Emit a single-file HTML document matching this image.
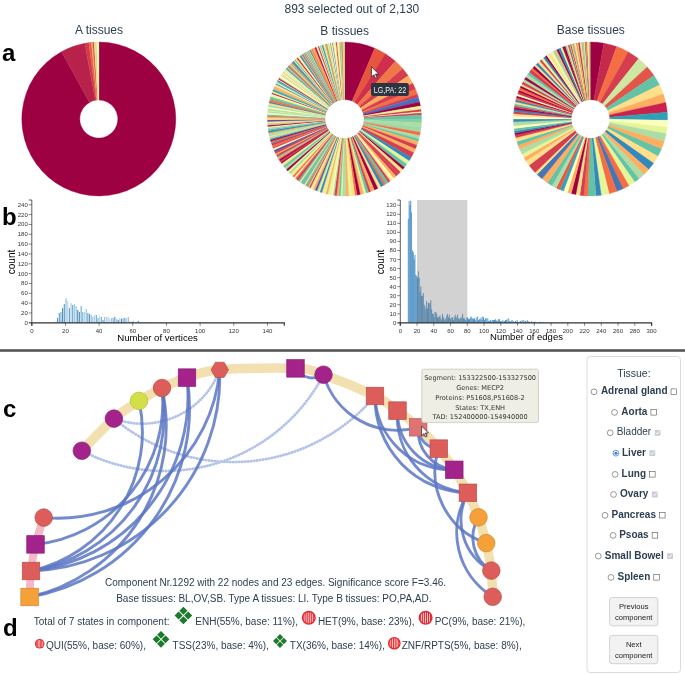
<!DOCTYPE html><html><head><meta charset="utf-8"><style>html,body{margin:0;padding:0;background:#fff;}svg{display:block;}</style></head><body>
<svg width="685" height="674" viewBox="0 0 685 674" font-family='"Liberation Sans", Arial, sans-serif'>
<rect width="685" height="674" fill="#fff"/>
<text x="351.9" y="12.7" font-size="12" fill="#2c3e50" text-anchor="middle">893 selected out of 2,130</text>
<text x="99" y="34.4" font-size="12" fill="#2c3e50" text-anchor="middle">A tissues</text>
<text x="344.7" y="34.6" font-size="12" fill="#2c3e50" text-anchor="middle">B tissues</text>
<text x="590.8" y="34.2" font-size="12" fill="#2c3e50" text-anchor="middle">Base tissues</text>
<text x="2" y="61" font-size="24" font-weight="bold" fill="#000">a</text>
<path d="M98.80,42.00A77,77 0 1 1 61.47,51.65L89.59,102.38A19,19 0 1 0 98.80,100.00Z" fill="#9e0142" stroke="#9e0142" stroke-width="0.35"/>
<path d="M61.47,51.65A77,77 0 0 1 84.77,43.29L95.34,100.32A19,19 0 0 0 89.59,102.38Z" fill="#b8224a" stroke="#b8224a" stroke-width="0.35"/>
<path d="M84.77,43.29A77,77 0 0 1 88.75,42.66L96.32,100.16A19,19 0 0 0 95.34,100.32Z" fill="#cf3a4d" stroke="#cf3a4d" stroke-width="0.35"/>
<path d="M88.75,42.66A77,77 0 0 1 91.42,42.35L96.98,100.09A19,19 0 0 0 96.32,100.16Z" fill="#e8603f" stroke="#e8603f" stroke-width="0.35"/>
<path d="M91.42,42.35A77,77 0 0 1 92.76,42.24L97.31,100.06A19,19 0 0 0 96.98,100.09Z" fill="#fdae61" stroke="#fdae61" stroke-width="0.35"/>
<path d="M92.76,42.24A77,77 0 0 1 94.10,42.14L97.64,100.04A19,19 0 0 0 97.31,100.06Z" fill="#d53e4f" stroke="#d53e4f" stroke-width="0.35"/>
<path d="M94.10,42.14A77,77 0 0 1 95.44,42.07L97.97,100.02A19,19 0 0 0 97.64,100.04Z" fill="#fee08b" stroke="#fee08b" stroke-width="0.35"/>
<path d="M95.44,42.07A77,77 0 0 1 96.52,42.03L98.24,100.01A19,19 0 0 0 97.97,100.02Z" fill="#abdda4" stroke="#abdda4" stroke-width="0.35"/>
<path d="M96.52,42.03A77,77 0 0 1 97.72,42.01L98.53,100.00A19,19 0 0 0 98.24,100.01Z" fill="#e6f598" stroke="#e6f598" stroke-width="0.35"/>
<path d="M97.72,42.01A77,77 0 0 1 98.80,42.00L98.80,100.00A19,19 0 0 0 98.53,100.00Z" fill="#ffffbf" stroke="#ffffbf" stroke-width="0.35"/>
<path d="M344.50,42.00A77,77 0 0 1 374.83,48.23L352.18,101.08A19.5,19.5 0 0 0 344.50,99.50Z" fill="#9e0142" stroke="#9e0142" stroke-width="0.35"/>
<path d="M374.83,48.23A77,77 0 0 1 385.30,53.70L354.83,102.46A19.5,19.5 0 0 0 352.18,101.08Z" fill="#e8553f" stroke="#e8553f" stroke-width="0.35"/>
<path d="M385.30,53.70A77,77 0 0 1 395.42,61.24L357.40,104.37A19.5,19.5 0 0 0 354.83,102.46Z" fill="#cf2f4c" stroke="#cf2f4c" stroke-width="0.35"/>
<path d="M395.42,61.24A77,77 0 0 1 402.79,68.69L359.26,106.26A19.5,19.5 0 0 0 357.40,104.37Z" fill="#f07848" stroke="#f07848" stroke-width="0.35"/>
<path d="M402.79,68.69A77,77 0 0 1 408.26,75.83L360.65,108.07A19.5,19.5 0 0 0 359.26,106.26Z" fill="#d53e4f" stroke="#d53e4f" stroke-width="0.35"/>
<path d="M408.26,75.83A77,77 0 0 1 412.74,83.33L361.78,109.97A19.5,19.5 0 0 0 360.65,108.07Z" fill="#fdae61" stroke="#fdae61" stroke-width="0.35"/>
<path d="M412.74,83.33A77,77 0 0 1 415.54,89.29L362.49,111.47A19.5,19.5 0 0 0 361.78,109.97Z" fill="#d53e4f" stroke="#d53e4f" stroke-width="0.35"/>
<path d="M415.54,89.29A77,77 0 0 1 417.39,94.19L362.96,112.72A19.5,19.5 0 0 0 362.49,111.47Z" fill="#f46d43" stroke="#f46d43" stroke-width="0.35"/>
<path d="M417.39,94.19A77,77 0 0 1 418.33,97.13L363.20,113.46A19.5,19.5 0 0 0 362.96,112.72Z" fill="#d53e4f" stroke="#d53e4f" stroke-width="0.35"/>
<path d="M418.33,97.13A77,77 0 0 1 419.59,101.94L363.52,114.68A19.5,19.5 0 0 0 363.20,113.46Z" fill="#4a6fc0" stroke="#4a6fc0" stroke-width="0.35"/>
<path d="M419.59,101.94A77,77 0 0 1 420.40,106.03L363.72,115.71A19.5,19.5 0 0 0 363.52,114.68Z" fill="#9e0142" stroke="#9e0142" stroke-width="0.35"/>
<path d="M420.40,106.03A77,77 0 0 1 420.93,109.62L363.85,116.62A19.5,19.5 0 0 0 363.72,115.71Z" fill="#e6f598" stroke="#e6f598" stroke-width="0.35"/>
<path d="M420.93,109.62A77,77 0 0 1 421.16,111.75L363.91,117.16A19.5,19.5 0 0 0 363.85,116.62Z" fill="#d53e4f" stroke="#d53e4f" stroke-width="0.35"/>
<path d="M421.16,111.75A77,77 0 0 1 421.26,112.96L363.94,117.47A19.5,19.5 0 0 0 363.91,117.16Z" fill="#ffffbf" stroke="#ffffbf" stroke-width="0.35"/>
<path d="M421.26,112.96A77,77 0 0 1 421.39,114.97L363.97,117.98A19.5,19.5 0 0 0 363.94,117.47Z" fill="#d53e4f" stroke="#d53e4f" stroke-width="0.35"/>
<path d="M421.39,114.97A77,77 0 0 1 421.50,119.00L364.00,119.00A19.5,19.5 0 0 0 363.97,117.98Z" fill="#66c2a5" stroke="#66c2a5" stroke-width="0.35"/>
<path d="M421.50,119.00A77,77 0 0 1 421.39,123.03L363.97,120.02A19.5,19.5 0 0 0 364.00,119.00Z" fill="#86d0a8" stroke="#86d0a8" stroke-width="0.35"/>
<path d="M421.39,123.03A77,77 0 0 1 421.08,127.05L363.89,121.04A19.5,19.5 0 0 0 363.97,120.02Z" fill="#abdda4" stroke="#abdda4" stroke-width="0.35"/>
<path d="M421.08,127.05A77,77 0 0 1 420.33,132.37L363.70,122.39A19.5,19.5 0 0 0 363.89,121.04Z" fill="#9fd8a6" stroke="#9fd8a6" stroke-width="0.35"/>
<path d="M420.33,132.37A77,77 0 0 1 419.67,135.67L363.54,123.22A19.5,19.5 0 0 0 363.70,122.39Z" fill="#f46d43" stroke="#f46d43" stroke-width="0.35"/>
<path d="M419.67,135.67A77,77 0 0 1 418.88,138.93L363.34,124.05A19.5,19.5 0 0 0 363.54,123.22Z" fill="#abdda4" stroke="#abdda4" stroke-width="0.35"/>
<path d="M418.88,138.93A77,77 0 0 1 418.14,141.51L363.15,124.70A19.5,19.5 0 0 0 363.34,124.05Z" fill="#66c2a5" stroke="#66c2a5" stroke-width="0.35"/>
<path d="M418.14,141.51A77,77 0 0 1 416.86,145.34L362.82,125.67A19.5,19.5 0 0 0 363.15,124.70Z" fill="#fdae61" stroke="#fdae61" stroke-width="0.35"/>
<path d="M416.86,145.34A77,77 0 0 1 415.38,149.09L362.45,126.62A19.5,19.5 0 0 0 362.82,125.67Z" fill="#d53e4f" stroke="#d53e4f" stroke-width="0.35"/>
<path d="M415.38,149.09A77,77 0 0 1 413.71,152.75L362.03,127.55A19.5,19.5 0 0 0 362.45,126.62Z" fill="#fdae61" stroke="#fdae61" stroke-width="0.35"/>
<path d="M413.71,152.75A77,77 0 0 1 411.18,157.50L361.39,128.75A19.5,19.5 0 0 0 362.03,127.55Z" fill="#d53e4f" stroke="#d53e4f" stroke-width="0.35"/>
<path d="M411.18,157.50A77,77 0 0 1 409.08,160.94L360.85,129.62A19.5,19.5 0 0 0 361.39,128.75Z" fill="#3288bd" stroke="#3288bd" stroke-width="0.35"/>
<path d="M409.08,160.94A77,77 0 0 1 406.79,164.26L360.28,130.46A19.5,19.5 0 0 0 360.85,129.62Z" fill="#e6f598" stroke="#e6f598" stroke-width="0.35"/>
<path d="M406.79,164.26A77,77 0 0 1 404.34,167.46L359.65,131.27A19.5,19.5 0 0 0 360.28,130.46Z" fill="#66c2a5" stroke="#66c2a5" stroke-width="0.35"/>
<path d="M404.34,167.46A77,77 0 0 1 402.61,169.52L359.22,131.79A19.5,19.5 0 0 0 359.65,131.27Z" fill="#9e0142" stroke="#9e0142" stroke-width="0.35"/>
<path d="M402.61,169.52A77,77 0 0 1 400.35,172.00L358.64,132.42A19.5,19.5 0 0 0 359.22,131.79Z" fill="#fee08b" stroke="#fee08b" stroke-width="0.35"/>
<path d="M400.35,172.00A77,77 0 0 1 398.42,173.97L358.15,132.92A19.5,19.5 0 0 0 358.64,132.42Z" fill="#d53e4f" stroke="#d53e4f" stroke-width="0.35"/>
<path d="M398.42,173.97A77,77 0 0 1 395.96,176.28L357.53,133.51A19.5,19.5 0 0 0 358.15,132.92Z" fill="#d53e4f" stroke="#d53e4f" stroke-width="0.35"/>
<path d="M395.96,176.28A77,77 0 0 1 393.57,178.34L356.93,134.03A19.5,19.5 0 0 0 357.53,133.51Z" fill="#fdae61" stroke="#fdae61" stroke-width="0.35"/>
<path d="M393.57,178.34A77,77 0 0 1 391.80,179.76L356.48,134.39A19.5,19.5 0 0 0 356.93,134.03Z" fill="#ffffbf" stroke="#ffffbf" stroke-width="0.35"/>
<path d="M391.80,179.76A77,77 0 0 1 390.03,181.10L356.03,134.73A19.5,19.5 0 0 0 356.48,134.39Z" fill="#fee08b" stroke="#fee08b" stroke-width="0.35"/>
<path d="M390.03,181.10A77,77 0 0 1 388.17,182.42L355.56,135.06A19.5,19.5 0 0 0 356.03,134.73Z" fill="#d53e4f" stroke="#d53e4f" stroke-width="0.35"/>
<path d="M388.17,182.42A77,77 0 0 1 385.71,184.04L354.94,135.47A19.5,19.5 0 0 0 355.56,135.06Z" fill="#66c2a5" stroke="#66c2a5" stroke-width="0.35"/>
<path d="M385.71,184.04A77,77 0 0 1 383.68,185.29L354.42,135.79A19.5,19.5 0 0 0 354.94,135.47Z" fill="#f46d43" stroke="#f46d43" stroke-width="0.35"/>
<path d="M383.68,185.29A77,77 0 0 1 380.78,186.92L353.69,136.20A19.5,19.5 0 0 0 354.42,135.79Z" fill="#3288bd" stroke="#3288bd" stroke-width="0.35"/>
<path d="M380.78,186.92A77,77 0 0 1 377.89,188.38L352.96,136.57A19.5,19.5 0 0 0 353.69,136.20Z" fill="#fee08b" stroke="#fee08b" stroke-width="0.35"/>
<path d="M377.89,188.38A77,77 0 0 1 374.26,190.02L352.04,136.99A19.5,19.5 0 0 0 352.96,136.57Z" fill="#9e0142" stroke="#9e0142" stroke-width="0.35"/>
<path d="M374.26,190.02A77,77 0 0 1 370.75,191.39L351.15,137.33A19.5,19.5 0 0 0 352.04,136.99Z" fill="#fdae61" stroke="#fdae61" stroke-width="0.35"/>
<path d="M370.75,191.39A77,77 0 0 1 368.46,192.18L350.57,137.53A19.5,19.5 0 0 0 351.15,137.33Z" fill="#d53e4f" stroke="#d53e4f" stroke-width="0.35"/>
<path d="M368.46,192.18A77,77 0 0 1 365.85,192.98L349.91,137.74A19.5,19.5 0 0 0 350.57,137.53Z" fill="#66c2a5" stroke="#66c2a5" stroke-width="0.35"/>
<path d="M365.85,192.98A77,77 0 0 1 363.45,193.63L349.30,137.90A19.5,19.5 0 0 0 349.91,137.74Z" fill="#e6f598" stroke="#e6f598" stroke-width="0.35"/>
<path d="M363.45,193.63A77,77 0 0 1 360.18,194.39L348.47,138.09A19.5,19.5 0 0 0 349.30,137.90Z" fill="#fdae61" stroke="#fdae61" stroke-width="0.35"/>
<path d="M360.18,194.39A77,77 0 0 1 357.05,194.97L347.68,138.24A19.5,19.5 0 0 0 348.47,138.09Z" fill="#9e0142" stroke="#9e0142" stroke-width="0.35"/>
<path d="M357.05,194.97A77,77 0 0 1 354.82,195.31L347.11,138.32A19.5,19.5 0 0 0 347.68,138.24Z" fill="#f46d43" stroke="#f46d43" stroke-width="0.35"/>
<path d="M354.82,195.31A77,77 0 0 1 351.41,195.69L346.25,138.42A19.5,19.5 0 0 0 347.11,138.32Z" fill="#fee08b" stroke="#fee08b" stroke-width="0.35"/>
<path d="M351.41,195.69A77,77 0 0 1 348.67,195.89L345.56,138.47A19.5,19.5 0 0 0 346.25,138.42Z" fill="#e6f598" stroke="#e6f598" stroke-width="0.35"/>
<path d="M348.67,195.89A77,77 0 0 1 345.67,195.99L344.80,138.50A19.5,19.5 0 0 0 345.56,138.47Z" fill="#fdae61" stroke="#fdae61" stroke-width="0.35"/>
<path d="M345.67,195.99A77,77 0 0 1 342.03,195.96L343.87,138.49A19.5,19.5 0 0 0 344.80,138.50Z" fill="#abdda4" stroke="#abdda4" stroke-width="0.35"/>
<path d="M342.03,195.96A77,77 0 0 1 340.52,195.90L343.49,138.47A19.5,19.5 0 0 0 343.87,138.49Z" fill="#e6f598" stroke="#e6f598" stroke-width="0.35"/>
<path d="M340.52,195.90A77,77 0 0 1 338.68,195.78L343.03,138.44A19.5,19.5 0 0 0 343.49,138.47Z" fill="#66c2a5" stroke="#66c2a5" stroke-width="0.35"/>
<path d="M338.68,195.78A77,77 0 0 1 336.60,195.59L342.50,138.40A19.5,19.5 0 0 0 343.03,138.44Z" fill="#fdae61" stroke="#fdae61" stroke-width="0.35"/>
<path d="M336.60,195.59A77,77 0 0 1 334.22,195.31L341.90,138.33A19.5,19.5 0 0 0 342.50,138.40Z" fill="#d53e4f" stroke="#d53e4f" stroke-width="0.35"/>
<path d="M334.22,195.31A77,77 0 0 1 332.53,195.06L341.47,138.26A19.5,19.5 0 0 0 341.90,138.33Z" fill="#abdda4" stroke="#abdda4" stroke-width="0.35"/>
<path d="M332.53,195.06A77,77 0 0 1 331.15,194.83L341.12,138.20A19.5,19.5 0 0 0 341.47,138.26Z" fill="#ffffbf" stroke="#ffffbf" stroke-width="0.35"/>
<path d="M331.15,194.83A77,77 0 0 1 329.91,194.61L340.81,138.15A19.5,19.5 0 0 0 341.12,138.20Z" fill="#e6f598" stroke="#e6f598" stroke-width="0.35"/>
<path d="M329.91,194.61A77,77 0 0 1 327.82,194.17L340.28,138.04A19.5,19.5 0 0 0 340.81,138.15Z" fill="#e6f598" stroke="#e6f598" stroke-width="0.35"/>
<path d="M327.82,194.17A77,77 0 0 1 325.62,193.65L339.72,137.90A19.5,19.5 0 0 0 340.28,138.04Z" fill="#fdae61" stroke="#fdae61" stroke-width="0.35"/>
<path d="M325.62,193.65A77,77 0 0 1 323.64,193.12L339.22,137.77A19.5,19.5 0 0 0 339.72,137.90Z" fill="#e6f598" stroke="#e6f598" stroke-width="0.35"/>
<path d="M323.64,193.12A77,77 0 0 1 321.80,192.58L338.75,137.63A19.5,19.5 0 0 0 339.22,137.77Z" fill="#fee08b" stroke="#fee08b" stroke-width="0.35"/>
<path d="M321.80,192.58A77,77 0 0 1 319.69,191.89L338.22,137.46A19.5,19.5 0 0 0 338.75,137.63Z" fill="#3288bd" stroke="#3288bd" stroke-width="0.35"/>
<path d="M319.69,191.89A77,77 0 0 1 318.01,191.30L337.79,137.31A19.5,19.5 0 0 0 338.22,137.46Z" fill="#e6f598" stroke="#e6f598" stroke-width="0.35"/>
<path d="M318.01,191.30A77,77 0 0 1 316.81,190.85L337.49,137.20A19.5,19.5 0 0 0 337.79,137.31Z" fill="#abdda4" stroke="#abdda4" stroke-width="0.35"/>
<path d="M316.81,190.85A77,77 0 0 1 314.96,190.11L337.02,137.01A19.5,19.5 0 0 0 337.49,137.20Z" fill="#5e4fa2" stroke="#5e4fa2" stroke-width="0.35"/>
<path d="M314.96,190.11A77,77 0 0 1 312.93,189.23L336.51,136.79A19.5,19.5 0 0 0 337.02,137.01Z" fill="#fdae61" stroke="#fdae61" stroke-width="0.35"/>
<path d="M312.93,189.23A77,77 0 0 1 311.41,188.53L336.12,136.61A19.5,19.5 0 0 0 336.51,136.79Z" fill="#e6f598" stroke="#e6f598" stroke-width="0.35"/>
<path d="M311.41,188.53A77,77 0 0 1 310.30,187.99L335.84,136.47A19.5,19.5 0 0 0 336.12,136.61Z" fill="#fee08b" stroke="#fee08b" stroke-width="0.35"/>
<path d="M310.30,187.99A77,77 0 0 1 309.04,187.35L335.52,136.31A19.5,19.5 0 0 0 335.84,136.47Z" fill="#d53e4f" stroke="#d53e4f" stroke-width="0.35"/>
<path d="M309.04,187.35A77,77 0 0 1 307.91,186.75L335.23,136.16A19.5,19.5 0 0 0 335.52,136.31Z" fill="#abdda4" stroke="#abdda4" stroke-width="0.35"/>
<path d="M307.91,186.75A77,77 0 0 1 306.71,186.09L334.93,135.99A19.5,19.5 0 0 0 335.23,136.16Z" fill="#f46d43" stroke="#f46d43" stroke-width="0.35"/>
<path d="M306.71,186.09A77,77 0 0 1 305.26,185.25L334.56,135.78A19.5,19.5 0 0 0 334.93,135.99Z" fill="#66c2a5" stroke="#66c2a5" stroke-width="0.35"/>
<path d="M305.26,185.25A77,77 0 0 1 304.14,184.57L334.28,135.61A19.5,19.5 0 0 0 334.56,135.78Z" fill="#fee08b" stroke="#fee08b" stroke-width="0.35"/>
<path d="M304.14,184.57A77,77 0 0 1 302.55,183.57L333.88,135.35A19.5,19.5 0 0 0 334.28,135.61Z" fill="#66c2a5" stroke="#66c2a5" stroke-width="0.35"/>
<path d="M302.55,183.57A77,77 0 0 1 300.72,182.35L333.41,135.04A19.5,19.5 0 0 0 333.88,135.35Z" fill="#66c2a5" stroke="#66c2a5" stroke-width="0.35"/>
<path d="M300.72,182.35A77,77 0 0 1 299.46,181.45L333.09,134.82A19.5,19.5 0 0 0 333.41,135.04Z" fill="#fee08b" stroke="#fee08b" stroke-width="0.35"/>
<path d="M299.46,181.45A77,77 0 0 1 298.14,180.48L332.76,134.57A19.5,19.5 0 0 0 333.09,134.82Z" fill="#66c2a5" stroke="#66c2a5" stroke-width="0.35"/>
<path d="M298.14,180.48A77,77 0 0 1 296.27,179.02L332.29,134.20A19.5,19.5 0 0 0 332.76,134.57Z" fill="#d53e4f" stroke="#d53e4f" stroke-width="0.35"/>
<path d="M296.27,179.02A77,77 0 0 1 295.17,178.12L332.01,133.97A19.5,19.5 0 0 0 332.29,134.20Z" fill="#f46d43" stroke="#f46d43" stroke-width="0.35"/>
<path d="M295.17,178.12A77,77 0 0 1 294.03,177.16L331.72,133.73A19.5,19.5 0 0 0 332.01,133.97Z" fill="#ffffbf" stroke="#ffffbf" stroke-width="0.35"/>
<path d="M294.03,177.16A77,77 0 0 1 292.60,175.88L331.36,133.40A19.5,19.5 0 0 0 331.72,133.73Z" fill="#f46d43" stroke="#f46d43" stroke-width="0.35"/>
<path d="M292.60,175.88A77,77 0 0 1 291.71,175.05L331.13,133.20A19.5,19.5 0 0 0 331.36,133.40Z" fill="#fee08b" stroke="#fee08b" stroke-width="0.35"/>
<path d="M291.71,175.05A77,77 0 0 1 290.51,173.90L330.83,132.90A19.5,19.5 0 0 0 331.13,133.20Z" fill="#e6f598" stroke="#e6f598" stroke-width="0.35"/>
<path d="M290.51,173.90A77,77 0 0 1 288.86,172.22L330.41,132.48A19.5,19.5 0 0 0 330.83,132.90Z" fill="#abdda4" stroke="#abdda4" stroke-width="0.35"/>
<path d="M288.86,172.22A77,77 0 0 1 287.60,170.88L330.09,132.14A19.5,19.5 0 0 0 330.41,132.48Z" fill="#e6f598" stroke="#e6f598" stroke-width="0.35"/>
<path d="M287.60,170.88A77,77 0 0 1 286.26,169.37L329.75,131.76A19.5,19.5 0 0 0 330.09,132.14Z" fill="#9e0142" stroke="#9e0142" stroke-width="0.35"/>
<path d="M286.26,169.37A77,77 0 0 1 284.78,167.61L329.38,131.31A19.5,19.5 0 0 0 329.75,131.76Z" fill="#abdda4" stroke="#abdda4" stroke-width="0.35"/>
<path d="M284.78,167.61A77,77 0 0 1 283.38,165.83L329.02,130.86A19.5,19.5 0 0 0 329.38,131.31Z" fill="#66c2a5" stroke="#66c2a5" stroke-width="0.35"/>
<path d="M283.38,165.83A77,77 0 0 1 282.37,164.48L328.76,130.52A19.5,19.5 0 0 0 329.02,130.86Z" fill="#fee08b" stroke="#fee08b" stroke-width="0.35"/>
<path d="M282.37,164.48A77,77 0 0 1 281.59,163.40L328.57,130.24A19.5,19.5 0 0 0 328.76,130.52Z" fill="#e6f598" stroke="#e6f598" stroke-width="0.35"/>
<path d="M281.59,163.40A77,77 0 0 1 280.86,162.34L328.38,129.98A19.5,19.5 0 0 0 328.57,130.24Z" fill="#9e0142" stroke="#9e0142" stroke-width="0.35"/>
<path d="M280.86,162.34A77,77 0 0 1 280.04,161.12L328.18,129.67A19.5,19.5 0 0 0 328.38,129.98Z" fill="#d53e4f" stroke="#d53e4f" stroke-width="0.35"/>
<path d="M280.04,161.12A77,77 0 0 1 279.17,159.76L327.96,129.32A19.5,19.5 0 0 0 328.18,129.67Z" fill="#9e0142" stroke="#9e0142" stroke-width="0.35"/>
<path d="M279.17,159.76A77,77 0 0 1 278.54,158.73L327.80,129.06A19.5,19.5 0 0 0 327.96,129.32Z" fill="#d53e4f" stroke="#d53e4f" stroke-width="0.35"/>
<path d="M278.54,158.73A77,77 0 0 1 277.86,157.58L327.62,128.77A19.5,19.5 0 0 0 327.80,129.06Z" fill="#fdae61" stroke="#fdae61" stroke-width="0.35"/>
<path d="M277.86,157.58A77,77 0 0 1 277.25,156.50L327.47,128.50A19.5,19.5 0 0 0 327.62,128.77Z" fill="#66c2a5" stroke="#66c2a5" stroke-width="0.35"/>
<path d="M277.25,156.50A77,77 0 0 1 276.32,154.78L327.23,128.06A19.5,19.5 0 0 0 327.47,128.50Z" fill="#d53e4f" stroke="#d53e4f" stroke-width="0.35"/>
<path d="M276.32,154.78A77,77 0 0 1 275.63,153.44L327.06,127.72A19.5,19.5 0 0 0 327.23,128.06Z" fill="#fdae61" stroke="#fdae61" stroke-width="0.35"/>
<path d="M275.63,153.44A77,77 0 0 1 274.91,151.95L326.88,127.35A19.5,19.5 0 0 0 327.06,127.72Z" fill="#d53e4f" stroke="#d53e4f" stroke-width="0.35"/>
<path d="M274.91,151.95A77,77 0 0 1 273.98,149.92L326.64,126.83A19.5,19.5 0 0 0 326.88,127.35Z" fill="#5e4fa2" stroke="#5e4fa2" stroke-width="0.35"/>
<path d="M273.98,149.92A77,77 0 0 1 273.29,148.29L326.47,126.42A19.5,19.5 0 0 0 326.64,126.83Z" fill="#ffffbf" stroke="#ffffbf" stroke-width="0.35"/>
<path d="M273.29,148.29A77,77 0 0 1 272.80,147.07L326.34,126.11A19.5,19.5 0 0 0 326.47,126.42Z" fill="#d53e4f" stroke="#d53e4f" stroke-width="0.35"/>
<path d="M272.80,147.07A77,77 0 0 1 272.22,145.55L326.20,125.72A19.5,19.5 0 0 0 326.34,126.11Z" fill="#f46d43" stroke="#f46d43" stroke-width="0.35"/>
<path d="M272.22,145.55A77,77 0 0 1 271.49,143.46L326.01,125.19A19.5,19.5 0 0 0 326.20,125.72Z" fill="#d53e4f" stroke="#d53e4f" stroke-width="0.35"/>
<path d="M271.49,143.46A77,77 0 0 1 271.23,142.67L325.94,124.99A19.5,19.5 0 0 0 326.01,125.19Z" fill="#3288bd" stroke="#3288bd" stroke-width="0.35"/>
<path d="M271.23,142.67A77,77 0 0 1 270.82,141.36L325.84,124.66A19.5,19.5 0 0 0 325.94,124.99Z" fill="#f46d43" stroke="#f46d43" stroke-width="0.35"/>
<path d="M270.82,141.36A77,77 0 0 1 270.43,140.03L325.74,124.32A19.5,19.5 0 0 0 325.84,124.66Z" fill="#9e0142" stroke="#9e0142" stroke-width="0.35"/>
<path d="M270.43,140.03A77,77 0 0 1 270.06,138.70L325.65,123.99A19.5,19.5 0 0 0 325.74,124.32Z" fill="#3288bd" stroke="#3288bd" stroke-width="0.35"/>
<path d="M270.06,138.70A77,77 0 0 1 269.64,137.02L325.54,123.56A19.5,19.5 0 0 0 325.65,123.99Z" fill="#abdda4" stroke="#abdda4" stroke-width="0.35"/>
<path d="M269.64,137.02A77,77 0 0 1 269.39,135.96L325.48,123.30A19.5,19.5 0 0 0 325.54,123.56Z" fill="#fee08b" stroke="#fee08b" stroke-width="0.35"/>
<path d="M269.39,135.96A77,77 0 0 1 269.18,135.00L325.43,123.05A19.5,19.5 0 0 0 325.48,123.30Z" fill="#abdda4" stroke="#abdda4" stroke-width="0.35"/>
<path d="M269.18,135.00A77,77 0 0 1 268.91,133.65L325.36,122.71A19.5,19.5 0 0 0 325.43,123.05Z" fill="#abdda4" stroke="#abdda4" stroke-width="0.35"/>
<path d="M268.91,133.65A77,77 0 0 1 268.69,132.51L325.30,122.42A19.5,19.5 0 0 0 325.36,122.71Z" fill="#fdae61" stroke="#fdae61" stroke-width="0.35"/>
<path d="M268.69,132.51A77,77 0 0 1 268.42,130.85L325.23,122.00A19.5,19.5 0 0 0 325.30,122.42Z" fill="#3288bd" stroke="#3288bd" stroke-width="0.35"/>
<path d="M268.42,130.85A77,77 0 0 1 268.17,129.14L325.17,121.57A19.5,19.5 0 0 0 325.23,122.00Z" fill="#66c2a5" stroke="#66c2a5" stroke-width="0.35"/>
<path d="M268.17,129.14A77,77 0 0 1 267.97,127.47L325.12,121.15A19.5,19.5 0 0 0 325.17,121.57Z" fill="#abdda4" stroke="#abdda4" stroke-width="0.35"/>
<path d="M267.97,127.47A77,77 0 0 1 267.86,126.43L325.09,120.88A19.5,19.5 0 0 0 325.12,121.15Z" fill="#ffffbf" stroke="#ffffbf" stroke-width="0.35"/>
<path d="M267.86,126.43A77,77 0 0 1 267.75,125.24L325.06,120.58A19.5,19.5 0 0 0 325.09,120.88Z" fill="#9e0142" stroke="#9e0142" stroke-width="0.35"/>
<path d="M267.75,125.24A77,77 0 0 1 267.69,124.41L325.05,120.37A19.5,19.5 0 0 0 325.06,120.58Z" fill="#fdae61" stroke="#fdae61" stroke-width="0.35"/>
<path d="M267.69,124.41A77,77 0 0 1 267.62,123.33L325.03,120.10A19.5,19.5 0 0 0 325.05,120.37Z" fill="#abdda4" stroke="#abdda4" stroke-width="0.35"/>
<path d="M267.62,123.33A77,77 0 0 1 267.54,121.49L325.01,119.63A19.5,19.5 0 0 0 325.03,120.10Z" fill="#fee08b" stroke="#fee08b" stroke-width="0.35"/>
<path d="M267.54,121.49A77,77 0 0 1 267.50,119.68L325.00,119.17A19.5,19.5 0 0 0 325.01,119.63Z" fill="#5e4fa2" stroke="#5e4fa2" stroke-width="0.35"/>
<path d="M267.50,119.68A77,77 0 0 1 267.51,117.85L325.00,118.71A19.5,19.5 0 0 0 325.00,119.17Z" fill="#fee08b" stroke="#fee08b" stroke-width="0.35"/>
<path d="M267.51,117.85A77,77 0 0 1 267.53,116.80L325.01,118.44A19.5,19.5 0 0 0 325.00,118.71Z" fill="#fdae61" stroke="#fdae61" stroke-width="0.35"/>
<path d="M267.53,116.80A77,77 0 0 1 267.57,115.79L325.02,118.19A19.5,19.5 0 0 0 325.01,118.44Z" fill="#f46d43" stroke="#f46d43" stroke-width="0.35"/>
<path d="M267.57,115.79A77,77 0 0 1 267.64,114.31L325.04,117.81A19.5,19.5 0 0 0 325.02,118.19Z" fill="#66c2a5" stroke="#66c2a5" stroke-width="0.35"/>
<path d="M267.64,114.31A77,77 0 0 1 267.77,112.61L325.07,117.38A19.5,19.5 0 0 0 325.04,117.81Z" fill="#ffffbf" stroke="#ffffbf" stroke-width="0.35"/>
<path d="M267.77,112.61A77,77 0 0 1 267.91,111.10L325.10,117.00A19.5,19.5 0 0 0 325.07,117.38Z" fill="#abdda4" stroke="#abdda4" stroke-width="0.35"/>
<path d="M267.91,111.10A77,77 0 0 1 268.00,110.21L325.13,116.77A19.5,19.5 0 0 0 325.10,117.00Z" fill="#e6f598" stroke="#e6f598" stroke-width="0.35"/>
<path d="M268.00,110.21A77,77 0 0 1 268.23,108.44L325.18,116.33A19.5,19.5 0 0 0 325.13,116.77Z" fill="#abdda4" stroke="#abdda4" stroke-width="0.35"/>
<path d="M268.23,108.44A77,77 0 0 1 268.47,106.85L325.24,115.92A19.5,19.5 0 0 0 325.18,116.33Z" fill="#ffffbf" stroke="#ffffbf" stroke-width="0.35"/>
<path d="M268.47,106.85A77,77 0 0 1 268.63,105.86L325.29,115.67A19.5,19.5 0 0 0 325.24,115.92Z" fill="#abdda4" stroke="#abdda4" stroke-width="0.35"/>
<path d="M268.63,105.86A77,77 0 0 1 268.84,104.72L325.34,115.38A19.5,19.5 0 0 0 325.29,115.67Z" fill="#abdda4" stroke="#abdda4" stroke-width="0.35"/>
<path d="M268.84,104.72A77,77 0 0 1 269.20,102.90L325.43,114.92A19.5,19.5 0 0 0 325.34,115.38Z" fill="#fee08b" stroke="#fee08b" stroke-width="0.35"/>
<path d="M269.20,102.90A77,77 0 0 1 269.47,101.69L325.50,114.62A19.5,19.5 0 0 0 325.43,114.92Z" fill="#3288bd" stroke="#3288bd" stroke-width="0.35"/>
<path d="M269.47,101.69A77,77 0 0 1 269.84,100.15L325.59,114.23A19.5,19.5 0 0 0 325.50,114.62Z" fill="#f46d43" stroke="#f46d43" stroke-width="0.35"/>
<path d="M269.84,100.15A77,77 0 0 1 270.08,99.24L325.65,114.00A19.5,19.5 0 0 0 325.59,114.23Z" fill="#f46d43" stroke="#f46d43" stroke-width="0.35"/>
<path d="M270.08,99.24A77,77 0 0 1 270.56,97.52L325.77,113.56A19.5,19.5 0 0 0 325.65,114.00Z" fill="#66c2a5" stroke="#66c2a5" stroke-width="0.35"/>
<path d="M270.56,97.52A77,77 0 0 1 270.83,96.60L325.84,113.33A19.5,19.5 0 0 0 325.77,113.56Z" fill="#66c2a5" stroke="#66c2a5" stroke-width="0.35"/>
<path d="M270.83,96.60A77,77 0 0 1 271.39,94.83L325.99,112.88A19.5,19.5 0 0 0 325.84,113.33Z" fill="#e6f598" stroke="#e6f598" stroke-width="0.35"/>
<path d="M271.39,94.83A77,77 0 0 1 271.77,93.71L326.08,112.59A19.5,19.5 0 0 0 325.99,112.88Z" fill="#ffffbf" stroke="#ffffbf" stroke-width="0.35"/>
<path d="M271.77,93.71A77,77 0 0 1 272.09,92.81L326.16,112.37A19.5,19.5 0 0 0 326.08,112.59Z" fill="#9e0142" stroke="#9e0142" stroke-width="0.35"/>
<path d="M272.09,92.81A77,77 0 0 1 272.74,91.08L326.33,111.93A19.5,19.5 0 0 0 326.16,112.37Z" fill="#e6f598" stroke="#e6f598" stroke-width="0.35"/>
<path d="M272.74,91.08A77,77 0 0 1 273.25,89.81L326.46,111.61A19.5,19.5 0 0 0 326.33,111.93Z" fill="#3288bd" stroke="#3288bd" stroke-width="0.35"/>
<path d="M273.25,89.81A77,77 0 0 1 273.74,88.63L326.58,111.31A19.5,19.5 0 0 0 326.46,111.61Z" fill="#66c2a5" stroke="#66c2a5" stroke-width="0.35"/>
<path d="M273.74,88.63A77,77 0 0 1 274.43,87.08L326.75,110.92A19.5,19.5 0 0 0 326.58,111.31Z" fill="#fdae61" stroke="#fdae61" stroke-width="0.35"/>
<path d="M274.43,87.08A77,77 0 0 1 274.88,86.11L326.87,110.67A19.5,19.5 0 0 0 326.75,110.92Z" fill="#fdae61" stroke="#fdae61" stroke-width="0.35"/>
<path d="M274.88,86.11A77,77 0 0 1 275.34,85.15L326.99,110.43A19.5,19.5 0 0 0 326.87,110.67Z" fill="#e6f598" stroke="#e6f598" stroke-width="0.35"/>
<path d="M275.34,85.15A77,77 0 0 1 275.82,84.18L327.11,110.18A19.5,19.5 0 0 0 326.99,110.43Z" fill="#fee08b" stroke="#fee08b" stroke-width="0.35"/>
<path d="M275.82,84.18A77,77 0 0 1 276.26,83.33L327.22,109.97A19.5,19.5 0 0 0 327.11,110.18Z" fill="#3288bd" stroke="#3288bd" stroke-width="0.35"/>
<path d="M276.26,83.33A77,77 0 0 1 276.82,82.29L327.36,109.70A19.5,19.5 0 0 0 327.22,109.97Z" fill="#ffffbf" stroke="#ffffbf" stroke-width="0.35"/>
<path d="M276.82,82.29A77,77 0 0 1 277.51,81.03L327.54,109.39A19.5,19.5 0 0 0 327.36,109.70Z" fill="#66c2a5" stroke="#66c2a5" stroke-width="0.35"/>
<path d="M277.51,81.03A77,77 0 0 1 278.14,79.94L327.69,109.11A19.5,19.5 0 0 0 327.54,109.39Z" fill="#3288bd" stroke="#3288bd" stroke-width="0.35"/>
<path d="M278.14,79.94A77,77 0 0 1 278.59,79.19L327.81,108.92A19.5,19.5 0 0 0 327.69,109.11Z" fill="#ffffbf" stroke="#ffffbf" stroke-width="0.35"/>
<path d="M278.59,79.19A77,77 0 0 1 279.06,78.43L327.93,108.73A19.5,19.5 0 0 0 327.81,108.92Z" fill="#9e0142" stroke="#9e0142" stroke-width="0.35"/>
<path d="M279.06,78.43A77,77 0 0 1 279.49,77.74L328.04,108.55A19.5,19.5 0 0 0 327.93,108.73Z" fill="#f46d43" stroke="#f46d43" stroke-width="0.35"/>
<path d="M279.49,77.74A77,77 0 0 1 279.71,77.39L328.09,108.46A19.5,19.5 0 0 0 328.04,108.55Z" fill="#abdda4" stroke="#abdda4" stroke-width="0.35"/>
<path d="M279.71,77.39A77,77 0 0 1 280.02,76.92L328.17,108.34A19.5,19.5 0 0 0 328.09,108.46Z" fill="#ffffbf" stroke="#ffffbf" stroke-width="0.35"/>
<path d="M280.02,76.92A77,77 0 0 1 280.62,76.01L328.32,108.11A19.5,19.5 0 0 0 328.17,108.34Z" fill="#ffffbf" stroke="#ffffbf" stroke-width="0.35"/>
<path d="M280.62,76.01A77,77 0 0 1 281.02,75.43L328.42,107.97A19.5,19.5 0 0 0 328.32,108.11Z" fill="#ffffbf" stroke="#ffffbf" stroke-width="0.35"/>
<path d="M281.02,75.43A77,77 0 0 1 281.54,74.67L328.56,107.77A19.5,19.5 0 0 0 328.42,107.97Z" fill="#abdda4" stroke="#abdda4" stroke-width="0.35"/>
<path d="M281.54,74.67A77,77 0 0 1 281.83,74.26L328.63,107.67A19.5,19.5 0 0 0 328.56,107.77Z" fill="#ffffbf" stroke="#ffffbf" stroke-width="0.35"/>
<path d="M281.83,74.26A77,77 0 0 1 282.21,73.74L328.72,107.54A19.5,19.5 0 0 0 328.63,107.67Z" fill="#fdae61" stroke="#fdae61" stroke-width="0.35"/>
<path d="M282.21,73.74A77,77 0 0 1 282.88,72.83L328.89,107.31A19.5,19.5 0 0 0 328.72,107.54Z" fill="#ffffbf" stroke="#ffffbf" stroke-width="0.35"/>
<path d="M282.88,72.83A77,77 0 0 1 283.44,72.09L329.04,107.12A19.5,19.5 0 0 0 328.89,107.31Z" fill="#abdda4" stroke="#abdda4" stroke-width="0.35"/>
<path d="M283.44,72.09A77,77 0 0 1 284.22,71.09L329.23,106.87A19.5,19.5 0 0 0 329.04,107.12Z" fill="#fee08b" stroke="#fee08b" stroke-width="0.35"/>
<path d="M284.22,71.09A77,77 0 0 1 284.83,70.33L329.39,106.67A19.5,19.5 0 0 0 329.23,106.87Z" fill="#ffffbf" stroke="#ffffbf" stroke-width="0.35"/>
<path d="M284.83,70.33A77,77 0 0 1 285.39,69.65L329.53,106.50A19.5,19.5 0 0 0 329.39,106.67Z" fill="#abdda4" stroke="#abdda4" stroke-width="0.35"/>
<path d="M285.39,69.65A77,77 0 0 1 285.93,69.02L329.67,106.34A19.5,19.5 0 0 0 329.53,106.50Z" fill="#ffffbf" stroke="#ffffbf" stroke-width="0.35"/>
<path d="M285.93,69.02A77,77 0 0 1 286.49,68.37L329.81,106.18A19.5,19.5 0 0 0 329.67,106.34Z" fill="#3288bd" stroke="#3288bd" stroke-width="0.35"/>
<path d="M286.49,68.37A77,77 0 0 1 287.19,67.58L329.99,105.98A19.5,19.5 0 0 0 329.81,106.18Z" fill="#66c2a5" stroke="#66c2a5" stroke-width="0.35"/>
<path d="M287.19,67.58A77,77 0 0 1 288.06,66.62L330.21,105.74A19.5,19.5 0 0 0 329.99,105.98Z" fill="#fdae61" stroke="#fdae61" stroke-width="0.35"/>
<path d="M288.06,66.62A77,77 0 0 1 288.70,65.95L330.37,105.56A19.5,19.5 0 0 0 330.21,105.74Z" fill="#3288bd" stroke="#3288bd" stroke-width="0.35"/>
<path d="M288.70,65.95A77,77 0 0 1 289.52,65.09L330.58,105.35A19.5,19.5 0 0 0 330.37,105.56Z" fill="#f46d43" stroke="#f46d43" stroke-width="0.35"/>
<path d="M289.52,65.09A77,77 0 0 1 289.89,64.72L330.67,105.25A19.5,19.5 0 0 0 330.58,105.35Z" fill="#fee08b" stroke="#fee08b" stroke-width="0.35"/>
<path d="M289.89,64.72A77,77 0 0 1 290.22,64.38L330.75,105.17A19.5,19.5 0 0 0 330.67,105.25Z" fill="#fdae61" stroke="#fdae61" stroke-width="0.35"/>
<path d="M290.22,64.38A77,77 0 0 1 290.56,64.05L330.84,105.08A19.5,19.5 0 0 0 330.75,105.17Z" fill="#e6f598" stroke="#e6f598" stroke-width="0.35"/>
<path d="M290.56,64.05A77,77 0 0 1 291.38,63.26L331.05,104.88A19.5,19.5 0 0 0 330.84,105.08Z" fill="#66c2a5" stroke="#66c2a5" stroke-width="0.35"/>
<path d="M291.38,63.26A77,77 0 0 1 291.78,62.88L331.15,104.79A19.5,19.5 0 0 0 331.05,104.88Z" fill="#abdda4" stroke="#abdda4" stroke-width="0.35"/>
<path d="M291.78,62.88A77,77 0 0 1 292.53,62.19L331.34,104.61A19.5,19.5 0 0 0 331.15,104.79Z" fill="#f46d43" stroke="#f46d43" stroke-width="0.35"/>
<path d="M292.53,62.19A77,77 0 0 1 293.44,61.36L331.57,104.40A19.5,19.5 0 0 0 331.34,104.61Z" fill="#3288bd" stroke="#3288bd" stroke-width="0.35"/>
<path d="M293.44,61.36A77,77 0 0 1 293.90,60.96L331.69,104.30A19.5,19.5 0 0 0 331.57,104.40Z" fill="#3288bd" stroke="#3288bd" stroke-width="0.35"/>
<path d="M293.90,60.96A77,77 0 0 1 294.49,60.45L331.84,104.17A19.5,19.5 0 0 0 331.69,104.30Z" fill="#ffffbf" stroke="#ffffbf" stroke-width="0.35"/>
<path d="M294.49,60.45A77,77 0 0 1 295.51,59.59L332.09,103.96A19.5,19.5 0 0 0 331.84,104.17Z" fill="#66c2a5" stroke="#66c2a5" stroke-width="0.35"/>
<path d="M295.51,59.59A77,77 0 0 1 295.94,59.24L332.20,103.87A19.5,19.5 0 0 0 332.09,103.96Z" fill="#fee08b" stroke="#fee08b" stroke-width="0.35"/>
<path d="M295.94,59.24A77,77 0 0 1 296.63,58.69L332.38,103.73A19.5,19.5 0 0 0 332.20,103.87Z" fill="#fee08b" stroke="#fee08b" stroke-width="0.35"/>
<path d="M296.63,58.69A77,77 0 0 1 297.10,58.32L332.49,103.63A19.5,19.5 0 0 0 332.38,103.73Z" fill="#fdae61" stroke="#fdae61" stroke-width="0.35"/>
<path d="M297.10,58.32A77,77 0 0 1 297.95,57.66L332.71,103.47A19.5,19.5 0 0 0 332.49,103.63Z" fill="#9e0142" stroke="#9e0142" stroke-width="0.35"/>
<path d="M297.95,57.66A77,77 0 0 1 298.69,57.11L332.90,103.33A19.5,19.5 0 0 0 332.71,103.47Z" fill="#fee08b" stroke="#fee08b" stroke-width="0.35"/>
<path d="M298.69,57.11A77,77 0 0 1 299.03,56.86L332.99,103.26A19.5,19.5 0 0 0 332.90,103.33Z" fill="#fee08b" stroke="#fee08b" stroke-width="0.35"/>
<path d="M299.03,56.86A77,77 0 0 1 299.83,56.28L333.19,103.12A19.5,19.5 0 0 0 332.99,103.26Z" fill="#ffffbf" stroke="#ffffbf" stroke-width="0.35"/>
<path d="M299.83,56.28A77,77 0 0 1 300.21,56.01L333.28,103.05A19.5,19.5 0 0 0 333.19,103.12Z" fill="#3288bd" stroke="#3288bd" stroke-width="0.35"/>
<path d="M300.21,56.01A77,77 0 0 1 301.15,55.36L333.52,102.88A19.5,19.5 0 0 0 333.28,103.05Z" fill="#3288bd" stroke="#3288bd" stroke-width="0.35"/>
<path d="M301.15,55.36A77,77 0 0 1 301.57,55.08L333.63,102.81A19.5,19.5 0 0 0 333.52,102.88Z" fill="#fdae61" stroke="#fdae61" stroke-width="0.35"/>
<path d="M301.57,55.08A77,77 0 0 1 301.94,54.83L333.72,102.75A19.5,19.5 0 0 0 333.63,102.81Z" fill="#abdda4" stroke="#abdda4" stroke-width="0.35"/>
<path d="M301.94,54.83A77,77 0 0 1 302.49,54.47L333.86,102.66A19.5,19.5 0 0 0 333.72,102.75Z" fill="#f46d43" stroke="#f46d43" stroke-width="0.35"/>
<path d="M302.49,54.47A77,77 0 0 1 303.16,54.04L334.03,102.55A19.5,19.5 0 0 0 333.86,102.66Z" fill="#3288bd" stroke="#3288bd" stroke-width="0.35"/>
<path d="M303.16,54.04A77,77 0 0 1 304.15,53.42L334.28,102.39A19.5,19.5 0 0 0 334.03,102.55Z" fill="#fdae61" stroke="#fdae61" stroke-width="0.35"/>
<path d="M304.15,53.42A77,77 0 0 1 304.62,53.13L334.40,102.32A19.5,19.5 0 0 0 334.28,102.39Z" fill="#3288bd" stroke="#3288bd" stroke-width="0.35"/>
<path d="M304.62,53.13A77,77 0 0 1 305.42,52.65L334.60,102.20A19.5,19.5 0 0 0 334.40,102.32Z" fill="#abdda4" stroke="#abdda4" stroke-width="0.35"/>
<path d="M305.42,52.65A77,77 0 0 1 305.85,52.41L334.71,102.14A19.5,19.5 0 0 0 334.60,102.20Z" fill="#d53e4f" stroke="#d53e4f" stroke-width="0.35"/>
<path d="M305.85,52.41A77,77 0 0 1 306.76,51.88L334.94,102.00A19.5,19.5 0 0 0 334.71,102.14Z" fill="#fee08b" stroke="#fee08b" stroke-width="0.35"/>
<path d="M306.76,51.88A77,77 0 0 1 307.17,51.65L335.05,101.95A19.5,19.5 0 0 0 334.94,102.00Z" fill="#3288bd" stroke="#3288bd" stroke-width="0.35"/>
<path d="M307.17,51.65A77,77 0 0 1 308.05,51.18L335.27,101.82A19.5,19.5 0 0 0 335.05,101.95Z" fill="#abdda4" stroke="#abdda4" stroke-width="0.35"/>
<path d="M308.05,51.18A77,77 0 0 1 308.47,50.95L335.38,101.77A19.5,19.5 0 0 0 335.27,101.82Z" fill="#66c2a5" stroke="#66c2a5" stroke-width="0.35"/>
<path d="M308.47,50.95A77,77 0 0 1 308.88,50.73L335.48,101.71A19.5,19.5 0 0 0 335.38,101.77Z" fill="#66c2a5" stroke="#66c2a5" stroke-width="0.35"/>
<path d="M308.88,50.73A77,77 0 0 1 309.62,50.35L335.67,101.62A19.5,19.5 0 0 0 335.48,101.71Z" fill="#fee08b" stroke="#fee08b" stroke-width="0.35"/>
<path d="M309.62,50.35A77,77 0 0 1 310.45,49.94L335.88,101.51A19.5,19.5 0 0 0 335.67,101.62Z" fill="#3288bd" stroke="#3288bd" stroke-width="0.35"/>
<path d="M310.45,49.94A77,77 0 0 1 311.04,49.65L336.03,101.44A19.5,19.5 0 0 0 335.88,101.51Z" fill="#f46d43" stroke="#f46d43" stroke-width="0.35"/>
<path d="M311.04,49.65A77,77 0 0 1 311.85,49.27L336.23,101.34A19.5,19.5 0 0 0 336.03,101.44Z" fill="#fdae61" stroke="#fdae61" stroke-width="0.35"/>
<path d="M311.85,49.27A77,77 0 0 1 312.31,49.05L336.35,101.29A19.5,19.5 0 0 0 336.23,101.34Z" fill="#f46d43" stroke="#f46d43" stroke-width="0.35"/>
<path d="M312.31,49.05A77,77 0 0 1 312.72,48.87L336.45,101.24A19.5,19.5 0 0 0 336.35,101.29Z" fill="#f46d43" stroke="#f46d43" stroke-width="0.35"/>
<path d="M312.72,48.87A77,77 0 0 1 313.35,48.58L336.61,101.17A19.5,19.5 0 0 0 336.45,101.24Z" fill="#fdae61" stroke="#fdae61" stroke-width="0.35"/>
<path d="M313.35,48.58A77,77 0 0 1 314.38,48.14L336.87,101.05A19.5,19.5 0 0 0 336.61,101.17Z" fill="#fdae61" stroke="#fdae61" stroke-width="0.35"/>
<path d="M314.38,48.14A77,77 0 0 1 315.18,47.80L337.08,100.97A19.5,19.5 0 0 0 336.87,101.05Z" fill="#f46d43" stroke="#f46d43" stroke-width="0.35"/>
<path d="M315.18,47.80A77,77 0 0 1 315.86,47.52L337.25,100.90A19.5,19.5 0 0 0 337.08,100.97Z" fill="#9e0142" stroke="#9e0142" stroke-width="0.35"/>
<path d="M315.86,47.52A77,77 0 0 1 316.45,47.29L337.40,100.84A19.5,19.5 0 0 0 337.25,100.90Z" fill="#9e0142" stroke="#9e0142" stroke-width="0.35"/>
<path d="M316.45,47.29A77,77 0 0 1 317.48,46.90L337.66,100.74A19.5,19.5 0 0 0 337.40,100.84Z" fill="#ffffbf" stroke="#ffffbf" stroke-width="0.35"/>
<path d="M317.48,46.90A77,77 0 0 1 318.02,46.70L337.79,100.69A19.5,19.5 0 0 0 337.66,100.74Z" fill="#ffffbf" stroke="#ffffbf" stroke-width="0.35"/>
<path d="M318.02,46.70A77,77 0 0 1 319.23,46.27L338.10,100.58A19.5,19.5 0 0 0 337.79,100.69Z" fill="#d53e4f" stroke="#d53e4f" stroke-width="0.35"/>
<path d="M319.23,46.27A77,77 0 0 1 320.34,45.89L338.38,100.48A19.5,19.5 0 0 0 338.10,100.58Z" fill="#fee08b" stroke="#fee08b" stroke-width="0.35"/>
<path d="M320.34,45.89A77,77 0 0 1 321.17,45.62L338.59,100.42A19.5,19.5 0 0 0 338.38,100.48Z" fill="#66c2a5" stroke="#66c2a5" stroke-width="0.35"/>
<path d="M321.17,45.62A77,77 0 0 1 321.90,45.39L338.78,100.36A19.5,19.5 0 0 0 338.59,100.42Z" fill="#ffffbf" stroke="#ffffbf" stroke-width="0.35"/>
<path d="M321.90,45.39A77,77 0 0 1 322.91,45.09L339.03,100.28A19.5,19.5 0 0 0 338.78,100.36Z" fill="#3288bd" stroke="#3288bd" stroke-width="0.35"/>
<path d="M322.91,45.09A77,77 0 0 1 323.61,44.89L339.21,100.23A19.5,19.5 0 0 0 339.03,100.28Z" fill="#66c2a5" stroke="#66c2a5" stroke-width="0.35"/>
<path d="M323.61,44.89A77,77 0 0 1 324.64,44.61L339.47,100.16A19.5,19.5 0 0 0 339.21,100.23Z" fill="#e6f598" stroke="#e6f598" stroke-width="0.35"/>
<path d="M324.64,44.61A77,77 0 0 1 325.40,44.41L339.66,100.11A19.5,19.5 0 0 0 339.47,100.16Z" fill="#fee08b" stroke="#fee08b" stroke-width="0.35"/>
<path d="M325.40,44.41A77,77 0 0 1 325.84,44.30L339.77,100.08A19.5,19.5 0 0 0 339.66,100.11Z" fill="#f46d43" stroke="#f46d43" stroke-width="0.35"/>
<path d="M325.84,44.30A77,77 0 0 1 326.29,44.18L339.89,100.05A19.5,19.5 0 0 0 339.77,100.08Z" fill="#abdda4" stroke="#abdda4" stroke-width="0.35"/>
<path d="M326.29,44.18A77,77 0 0 1 326.92,44.03L340.05,100.02A19.5,19.5 0 0 0 339.89,100.05Z" fill="#f46d43" stroke="#f46d43" stroke-width="0.35"/>
<path d="M326.92,44.03A77,77 0 0 1 327.39,43.93L340.17,99.99A19.5,19.5 0 0 0 340.05,100.02Z" fill="#66c2a5" stroke="#66c2a5" stroke-width="0.35"/>
<path d="M327.39,43.93A77,77 0 0 1 328.58,43.66L340.47,99.92A19.5,19.5 0 0 0 340.17,99.99Z" fill="#e6f598" stroke="#e6f598" stroke-width="0.35"/>
<path d="M328.58,43.66A77,77 0 0 1 329.24,43.53L340.63,99.89A19.5,19.5 0 0 0 340.47,99.92Z" fill="#fdae61" stroke="#fdae61" stroke-width="0.35"/>
<path d="M329.24,43.53A77,77 0 0 1 329.90,43.40L340.80,99.85A19.5,19.5 0 0 0 340.63,99.89Z" fill="#ffffbf" stroke="#ffffbf" stroke-width="0.35"/>
<path d="M329.90,43.40A77,77 0 0 1 330.44,43.29L340.94,99.83A19.5,19.5 0 0 0 340.80,99.85Z" fill="#fee08b" stroke="#fee08b" stroke-width="0.35"/>
<path d="M330.44,43.29A77,77 0 0 1 331.08,43.18L341.10,99.80A19.5,19.5 0 0 0 340.94,99.83Z" fill="#3288bd" stroke="#3288bd" stroke-width="0.35"/>
<path d="M331.08,43.18A77,77 0 0 1 332.38,42.96L341.43,99.74A19.5,19.5 0 0 0 341.10,99.80Z" fill="#ffffbf" stroke="#ffffbf" stroke-width="0.35"/>
<path d="M332.38,42.96A77,77 0 0 1 333.01,42.86L341.59,99.72A19.5,19.5 0 0 0 341.43,99.74Z" fill="#3288bd" stroke="#3288bd" stroke-width="0.35"/>
<path d="M333.01,42.86A77,77 0 0 1 333.70,42.76L341.76,99.69A19.5,19.5 0 0 0 341.59,99.72Z" fill="#fee08b" stroke="#fee08b" stroke-width="0.35"/>
<path d="M333.70,42.76A77,77 0 0 1 334.10,42.71L341.87,99.68A19.5,19.5 0 0 0 341.76,99.69Z" fill="#fee08b" stroke="#fee08b" stroke-width="0.35"/>
<path d="M334.10,42.71A77,77 0 0 1 334.94,42.60L342.08,99.65A19.5,19.5 0 0 0 341.87,99.68Z" fill="#ffffbf" stroke="#ffffbf" stroke-width="0.35"/>
<path d="M334.94,42.60A77,77 0 0 1 335.53,42.52L342.23,99.63A19.5,19.5 0 0 0 342.08,99.65Z" fill="#ffffbf" stroke="#ffffbf" stroke-width="0.35"/>
<path d="M335.53,42.52A77,77 0 0 1 335.93,42.48L342.33,99.62A19.5,19.5 0 0 0 342.23,99.63Z" fill="#fdae61" stroke="#fdae61" stroke-width="0.35"/>
<path d="M335.93,42.48A77,77 0 0 1 336.42,42.43L342.45,99.61A19.5,19.5 0 0 0 342.33,99.62Z" fill="#fee08b" stroke="#fee08b" stroke-width="0.35"/>
<path d="M336.42,42.43A77,77 0 0 1 336.86,42.38L342.56,99.60A19.5,19.5 0 0 0 342.45,99.61Z" fill="#9e0142" stroke="#9e0142" stroke-width="0.35"/>
<path d="M336.86,42.38A77,77 0 0 1 337.54,42.31L342.74,99.58A19.5,19.5 0 0 0 342.56,99.60Z" fill="#fdae61" stroke="#fdae61" stroke-width="0.35"/>
<path d="M337.54,42.31A77,77 0 0 1 338.49,42.23L342.98,99.56A19.5,19.5 0 0 0 342.74,99.58Z" fill="#ffffbf" stroke="#ffffbf" stroke-width="0.35"/>
<path d="M338.49,42.23A77,77 0 0 1 339.60,42.16L343.26,99.54A19.5,19.5 0 0 0 342.98,99.56Z" fill="#e6f598" stroke="#e6f598" stroke-width="0.35"/>
<path d="M339.60,42.16A77,77 0 0 1 340.68,42.10L343.53,99.52A19.5,19.5 0 0 0 343.26,99.54Z" fill="#66c2a5" stroke="#66c2a5" stroke-width="0.35"/>
<path d="M340.68,42.10A77,77 0 0 1 341.45,42.06L343.73,99.52A19.5,19.5 0 0 0 343.53,99.52Z" fill="#fee08b" stroke="#fee08b" stroke-width="0.35"/>
<path d="M341.45,42.06A77,77 0 0 1 342.77,42.02L344.06,99.50A19.5,19.5 0 0 0 343.73,99.52Z" fill="#f46d43" stroke="#f46d43" stroke-width="0.35"/>
<path d="M342.77,42.02A77,77 0 0 1 343.86,42.00L344.34,99.50A19.5,19.5 0 0 0 344.06,99.50Z" fill="#e6f598" stroke="#e6f598" stroke-width="0.35"/>
<path d="M343.86,42.00A77,77 0 0 1 344.30,42.00L344.45,99.50A19.5,19.5 0 0 0 344.34,99.50Z" fill="#66c2a5" stroke="#66c2a5" stroke-width="0.35"/>
<path d="M344.30,42.00A77,77 0 0 1 344.50,42.00L344.50,99.50A19.5,19.5 0 0 0 344.45,99.50Z" fill="#e6f598" stroke="#e6f598" stroke-width="0.35"/>
<path d="M590.50,42.00A77,77 0 0 1 603.87,43.17L593.85,99.99A19.3,19.3 0 0 0 590.50,99.70Z" fill="#9e0142" stroke="#9e0142" stroke-width="0.35"/>
<path d="M603.87,43.17A77,77 0 0 1 616.71,46.60L597.07,100.85A19.3,19.3 0 0 0 593.85,99.99Z" fill="#c62a4b" stroke="#c62a4b" stroke-width="0.35"/>
<path d="M616.71,46.60A77,77 0 0 1 628.30,51.92L599.97,102.19A19.3,19.3 0 0 0 597.07,100.85Z" fill="#f46d43" stroke="#f46d43" stroke-width="0.35"/>
<path d="M628.30,51.92A77,77 0 0 1 638.54,58.82L602.54,103.92A19.3,19.3 0 0 0 599.97,102.19Z" fill="#d53e4f" stroke="#d53e4f" stroke-width="0.35"/>
<path d="M638.54,58.82A77,77 0 0 1 647.18,66.88L604.71,105.94A19.3,19.3 0 0 0 602.54,103.92Z" fill="#cde8a0" stroke="#cde8a0" stroke-width="0.35"/>
<path d="M647.18,66.88A77,77 0 0 1 653.96,75.39L606.41,108.07A19.3,19.3 0 0 0 604.71,105.94Z" fill="#e35548" stroke="#e35548" stroke-width="0.35"/>
<path d="M653.96,75.39A77,77 0 0 1 659.59,85.00L607.82,110.48A19.3,19.3 0 0 0 606.41,108.07Z" fill="#66c2a5" stroke="#66c2a5" stroke-width="0.35"/>
<path d="M659.59,85.00A77,77 0 0 1 663.30,93.93L608.75,112.72A19.3,19.3 0 0 0 607.82,110.48Z" fill="#fee08b" stroke="#fee08b" stroke-width="0.35"/>
<path d="M663.30,93.93A77,77 0 0 1 665.73,102.60L609.36,114.89A19.3,19.3 0 0 0 608.75,112.72Z" fill="#fdae61" stroke="#fdae61" stroke-width="0.35"/>
<path d="M665.73,102.60A77,77 0 0 1 667.21,112.29L609.73,117.32A19.3,19.3 0 0 0 609.36,114.89Z" fill="#c8224d" stroke="#c8224d" stroke-width="0.35"/>
<path d="M667.21,112.29A77,77 0 0 1 667.49,120.34L609.80,119.34A19.3,19.3 0 0 0 609.73,117.32Z" fill="#2fa0b5" stroke="#2fa0b5" stroke-width="0.35"/>
<path d="M667.49,120.34A77,77 0 0 1 667.08,127.05L609.69,121.02A19.3,19.3 0 0 0 609.80,119.34Z" fill="#ffffbf" stroke="#ffffbf" stroke-width="0.35"/>
<path d="M667.08,127.05A77,77 0 0 1 666.09,133.69L609.45,122.68A19.3,19.3 0 0 0 609.69,121.02Z" fill="#e6f598" stroke="#e6f598" stroke-width="0.35"/>
<path d="M666.09,133.69A77,77 0 0 1 664.14,141.51L608.96,124.64A19.3,19.3 0 0 0 609.45,122.68Z" fill="#abdda4" stroke="#abdda4" stroke-width="0.35"/>
<path d="M664.14,141.51A77,77 0 0 1 661.38,149.09L608.27,126.54A19.3,19.3 0 0 0 608.96,124.64Z" fill="#fdae61" stroke="#fdae61" stroke-width="0.35"/>
<path d="M661.38,149.09A77,77 0 0 1 657.85,156.33L607.38,128.36A19.3,19.3 0 0 0 608.27,126.54Z" fill="#66c2a5" stroke="#66c2a5" stroke-width="0.35"/>
<path d="M657.85,156.33A77,77 0 0 1 653.57,163.17L606.31,130.07A19.3,19.3 0 0 0 607.38,128.36Z" fill="#fee08b" stroke="#fee08b" stroke-width="0.35"/>
<path d="M653.57,163.17A77,77 0 0 1 648.61,169.52L605.07,131.66A19.3,19.3 0 0 0 606.31,130.07Z" fill="#3288bd" stroke="#3288bd" stroke-width="0.35"/>
<path d="M648.61,169.52A77,77 0 0 1 643.99,174.39L603.91,132.88A19.3,19.3 0 0 0 605.07,131.66Z" fill="#fdae61" stroke="#fdae61" stroke-width="0.35"/>
<path d="M643.99,174.39A77,77 0 0 1 638.96,178.84L602.65,134.00A19.3,19.3 0 0 0 603.91,132.88Z" fill="#abdda4" stroke="#abdda4" stroke-width="0.35"/>
<path d="M638.96,178.84A77,77 0 0 1 634.67,182.07L601.57,134.81A19.3,19.3 0 0 0 602.65,134.00Z" fill="#66c2a5" stroke="#66c2a5" stroke-width="0.35"/>
<path d="M634.67,182.07A77,77 0 0 1 629.00,185.68L600.15,135.71A19.3,19.3 0 0 0 601.57,134.81Z" fill="#e6f598" stroke="#e6f598" stroke-width="0.35"/>
<path d="M629.00,185.68A77,77 0 0 1 623.04,188.79L598.66,136.49A19.3,19.3 0 0 0 600.15,135.71Z" fill="#f46d43" stroke="#f46d43" stroke-width="0.35"/>
<path d="M623.04,188.79A77,77 0 0 1 616.84,191.36L597.10,137.14A19.3,19.3 0 0 0 598.66,136.49Z" fill="#4575b4" stroke="#4575b4" stroke-width="0.35"/>
<path d="M616.84,191.36A77,77 0 0 1 609.13,193.71L595.17,137.73A19.3,19.3 0 0 0 597.10,137.14Z" fill="#f46d43" stroke="#f46d43" stroke-width="0.35"/>
<path d="M609.13,193.71A77,77 0 0 1 601.22,195.25L593.19,138.11A19.3,19.3 0 0 0 595.17,137.73Z" fill="#e6f598" stroke="#e6f598" stroke-width="0.35"/>
<path d="M601.22,195.25A77,77 0 0 1 595.87,195.81L591.85,138.25A19.3,19.3 0 0 0 593.19,138.11Z" fill="#3288bd" stroke="#3288bd" stroke-width="0.35"/>
<path d="M595.87,195.81A77,77 0 0 1 587.81,195.95L589.83,138.29A19.3,19.3 0 0 0 591.85,138.25Z" fill="#66c2a5" stroke="#66c2a5" stroke-width="0.35"/>
<path d="M587.81,195.95A77,77 0 0 1 583.79,195.71L588.82,138.23A19.3,19.3 0 0 0 589.83,138.29Z" fill="#f46d43" stroke="#f46d43" stroke-width="0.35"/>
<path d="M583.79,195.71A77,77 0 0 1 579.78,195.25L587.81,138.11A19.3,19.3 0 0 0 588.82,138.23Z" fill="#d53e4f" stroke="#d53e4f" stroke-width="0.35"/>
<path d="M579.78,195.25A77,77 0 0 1 575.81,194.59L586.82,137.95A19.3,19.3 0 0 0 587.81,138.11Z" fill="#fee08b" stroke="#fee08b" stroke-width="0.35"/>
<path d="M575.81,194.59A77,77 0 0 1 571.22,193.55L585.67,137.69A19.3,19.3 0 0 0 586.82,137.95Z" fill="#9e0142" stroke="#9e0142" stroke-width="0.35"/>
<path d="M571.22,193.55A77,77 0 0 1 567.35,192.44L584.70,137.41A19.3,19.3 0 0 0 585.67,137.69Z" fill="#fdae61" stroke="#fdae61" stroke-width="0.35"/>
<path d="M567.35,192.44A77,77 0 0 1 563.53,191.12L583.74,137.08A19.3,19.3 0 0 0 584.70,137.41Z" fill="#ffffbf" stroke="#ffffbf" stroke-width="0.35"/>
<path d="M563.53,191.12A77,77 0 0 1 559.80,189.61L582.80,136.70A19.3,19.3 0 0 0 583.74,137.08Z" fill="#3aa0b8" stroke="#3aa0b8" stroke-width="0.35"/>
<path d="M559.80,189.61A77,77 0 0 1 556.14,187.91L581.89,136.27A19.3,19.3 0 0 0 582.80,136.70Z" fill="#e55a48" stroke="#e55a48" stroke-width="0.35"/>
<path d="M556.14,187.91A77,77 0 0 1 552.00,185.68L580.85,135.71A19.3,19.3 0 0 0 581.89,136.27Z" fill="#abdda4" stroke="#abdda4" stroke-width="0.35"/>
<path d="M552.00,185.68A77,77 0 0 1 547.44,182.84L579.71,135.00A19.3,19.3 0 0 0 580.85,135.71Z" fill="#66c2a5" stroke="#66c2a5" stroke-width="0.35"/>
<path d="M547.44,182.84A77,77 0 0 1 542.04,178.84L578.35,134.00A19.3,19.3 0 0 0 579.71,135.00Z" fill="#fdae61" stroke="#fdae61" stroke-width="0.35"/>
<path d="M542.04,178.84A77,77 0 0 1 537.01,174.39L577.09,132.88A19.3,19.3 0 0 0 578.35,134.00Z" fill="#4575b4" stroke="#4575b4" stroke-width="0.35"/>
<path d="M537.01,174.39A77,77 0 0 1 535.11,172.49L576.62,132.41A19.3,19.3 0 0 0 577.09,132.88Z" fill="#fee08b" stroke="#fee08b" stroke-width="0.35"/>
<path d="M535.11,172.49A77,77 0 0 1 529.01,165.34L575.09,130.62A19.3,19.3 0 0 0 576.62,132.41Z" fill="#d53e4f" stroke="#d53e4f" stroke-width="0.35"/>
<path d="M529.01,165.34A77,77 0 0 1 525.92,160.94L574.31,129.51A19.3,19.3 0 0 0 575.09,130.62Z" fill="#fee08b" stroke="#fee08b" stroke-width="0.35"/>
<path d="M525.92,160.94A77,77 0 0 1 523.82,157.50L573.79,128.65A19.3,19.3 0 0 0 574.31,129.51Z" fill="#fdae61" stroke="#fdae61" stroke-width="0.35"/>
<path d="M523.82,157.50A77,77 0 0 1 521.89,153.96L573.30,127.76A19.3,19.3 0 0 0 573.79,128.65Z" fill="#e6f598" stroke="#e6f598" stroke-width="0.35"/>
<path d="M521.89,153.96A77,77 0 0 1 519.62,149.09L572.73,126.54A19.3,19.3 0 0 0 573.30,127.76Z" fill="#abdda4" stroke="#abdda4" stroke-width="0.35"/>
<path d="M519.62,149.09A77,77 0 0 1 518.14,145.34L572.36,125.60A19.3,19.3 0 0 0 572.73,126.54Z" fill="#fdae61" stroke="#fdae61" stroke-width="0.35"/>
<path d="M518.14,145.34A77,77 0 0 1 516.86,141.51L572.04,124.64A19.3,19.3 0 0 0 572.36,125.60Z" fill="#66c2a5" stroke="#66c2a5" stroke-width="0.35"/>
<path d="M516.86,141.51A77,77 0 0 1 515.79,137.63L571.77,123.67A19.3,19.3 0 0 0 572.04,124.64Z" fill="#fee08b" stroke="#fee08b" stroke-width="0.35"/>
<path d="M515.79,137.63A77,77 0 0 1 515.18,135.01L571.62,123.01A19.3,19.3 0 0 0 571.77,123.67Z" fill="#d53e4f" stroke="#d53e4f" stroke-width="0.35"/>
<path d="M515.18,135.01A77,77 0 0 1 514.79,133.03L571.52,122.52A19.3,19.3 0 0 0 571.62,123.01Z" fill="#9e0142" stroke="#9e0142" stroke-width="0.35"/>
<path d="M514.79,133.03A77,77 0 0 1 514.45,131.05L571.44,122.02A19.3,19.3 0 0 0 571.52,122.52Z" fill="#3288bd" stroke="#3288bd" stroke-width="0.35"/>
<path d="M514.45,131.05A77,77 0 0 1 514.07,128.38L571.34,121.35A19.3,19.3 0 0 0 571.44,122.02Z" fill="#66c2a5" stroke="#66c2a5" stroke-width="0.35"/>
<path d="M514.07,128.38A77,77 0 0 1 513.79,125.71L571.27,120.68A19.3,19.3 0 0 0 571.34,121.35Z" fill="#ffffbf" stroke="#ffffbf" stroke-width="0.35"/>
<path d="M513.79,125.71A77,77 0 0 1 513.55,121.69L571.21,119.67A19.3,19.3 0 0 0 571.27,120.68Z" fill="#abdda4" stroke="#abdda4" stroke-width="0.35"/>
<path d="M513.55,121.69A77,77 0 0 1 513.50,119.00L571.20,119.00A19.3,19.3 0 0 0 571.21,119.67Z" fill="#3288bd" stroke="#3288bd" stroke-width="0.35"/>
<path d="M513.50,119.00A77,77 0 0 1 513.55,116.31L571.21,118.33A19.3,19.3 0 0 0 571.20,119.00Z" fill="#ffffbf" stroke="#ffffbf" stroke-width="0.35"/>
<path d="M513.55,116.31A77,77 0 0 1 513.69,113.63L571.25,117.65A19.3,19.3 0 0 0 571.21,118.33Z" fill="#fee08b" stroke="#fee08b" stroke-width="0.35"/>
<path d="M513.69,113.63A77,77 0 0 1 513.85,111.62L571.29,117.15A19.3,19.3 0 0 0 571.25,117.65Z" fill="#d53e4f" stroke="#d53e4f" stroke-width="0.35"/>
<path d="M513.85,111.62A77,77 0 0 1 514.07,109.62L571.34,116.65A19.3,19.3 0 0 0 571.29,117.15Z" fill="#3288bd" stroke="#3288bd" stroke-width="0.35"/>
<path d="M514.07,109.62A77,77 0 0 1 514.35,107.62L571.41,116.15A19.3,19.3 0 0 0 571.34,116.65Z" fill="#9e0142" stroke="#9e0142" stroke-width="0.35"/>
<path d="M514.35,107.62A77,77 0 0 1 514.67,105.63L571.49,115.65A19.3,19.3 0 0 0 571.41,116.15Z" fill="#d53e4f" stroke="#d53e4f" stroke-width="0.35"/>
<path d="M514.67,105.63A77,77 0 0 1 515.05,103.65L571.59,115.15A19.3,19.3 0 0 0 571.49,115.65Z" fill="#66c2a5" stroke="#66c2a5" stroke-width="0.35"/>
<path d="M515.05,103.65A77,77 0 0 1 515.47,101.68L571.69,114.66A19.3,19.3 0 0 0 571.59,115.15Z" fill="#fee08b" stroke="#fee08b" stroke-width="0.35"/>
<path d="M515.47,101.68A77,77 0 0 1 515.95,99.72L571.81,114.17A19.3,19.3 0 0 0 571.69,114.66Z" fill="#3288bd" stroke="#3288bd" stroke-width="0.35"/>
<path d="M515.95,99.72A77,77 0 0 1 516.48,97.78L571.95,113.68A19.3,19.3 0 0 0 571.81,114.17Z" fill="#f46d43" stroke="#f46d43" stroke-width="0.35"/>
<path d="M516.48,97.78A77,77 0 0 1 517.06,95.85L572.09,113.20A19.3,19.3 0 0 0 571.95,113.68Z" fill="#9e0142" stroke="#9e0142" stroke-width="0.35"/>
<path d="M517.06,95.85A77,77 0 0 1 517.70,93.93L572.25,112.72A19.3,19.3 0 0 0 572.09,113.20Z" fill="#ffffbf" stroke="#ffffbf" stroke-width="0.35"/>
<path d="M517.70,93.93A77,77 0 0 1 518.38,92.03L572.42,112.24A19.3,19.3 0 0 0 572.25,112.72Z" fill="#d53e4f" stroke="#d53e4f" stroke-width="0.35"/>
<path d="M518.38,92.03A77,77 0 0 1 519.11,90.16L572.61,111.77A19.3,19.3 0 0 0 572.42,112.24Z" fill="#9e0142" stroke="#9e0142" stroke-width="0.35"/>
<path d="M519.11,90.16A77,77 0 0 1 520.16,87.68L572.87,111.15A19.3,19.3 0 0 0 572.61,111.77Z" fill="#f46d43" stroke="#f46d43" stroke-width="0.35"/>
<path d="M520.16,87.68A77,77 0 0 1 521.00,85.85L573.08,110.69A19.3,19.3 0 0 0 572.87,111.15Z" fill="#9e0142" stroke="#9e0142" stroke-width="0.35"/>
<path d="M521.00,85.85A77,77 0 0 1 521.89,84.04L573.30,110.24A19.3,19.3 0 0 0 573.08,110.69Z" fill="#fee08b" stroke="#fee08b" stroke-width="0.35"/>
<path d="M521.89,84.04A77,77 0 0 1 523.15,81.67L573.62,109.64A19.3,19.3 0 0 0 573.30,110.24Z" fill="#d53e4f" stroke="#d53e4f" stroke-width="0.35"/>
<path d="M523.15,81.67A77,77 0 0 1 524.50,79.34L573.96,109.06A19.3,19.3 0 0 0 573.62,109.64Z" fill="#abdda4" stroke="#abdda4" stroke-width="0.35"/>
<path d="M524.50,79.34A77,77 0 0 1 525.92,77.06L574.31,108.49A19.3,19.3 0 0 0 573.96,109.06Z" fill="#9e0142" stroke="#9e0142" stroke-width="0.35"/>
<path d="M525.92,77.06A77,77 0 0 1 527.81,74.29L574.79,107.79A19.3,19.3 0 0 0 574.31,108.49Z" fill="#abdda4" stroke="#abdda4" stroke-width="0.35"/>
<path d="M527.81,74.29A77,77 0 0 1 529.41,72.13L575.19,107.25A19.3,19.3 0 0 0 574.79,107.79Z" fill="#66c2a5" stroke="#66c2a5" stroke-width="0.35"/>
<path d="M529.41,72.13A77,77 0 0 1 531.51,69.51L575.72,106.59A19.3,19.3 0 0 0 575.19,107.25Z" fill="#d53e4f" stroke="#d53e4f" stroke-width="0.35"/>
<path d="M531.51,69.51A77,77 0 0 1 532.83,67.98L576.05,106.21A19.3,19.3 0 0 0 575.72,106.59Z" fill="#f46d43" stroke="#f46d43" stroke-width="0.35"/>
<path d="M532.83,67.98A77,77 0 0 1 534.65,66.00L576.50,105.71A19.3,19.3 0 0 0 576.05,106.21Z" fill="#9e0142" stroke="#9e0142" stroke-width="0.35"/>
<path d="M534.65,66.00A77,77 0 0 1 536.05,64.55L576.85,105.35A19.3,19.3 0 0 0 576.50,105.71Z" fill="#fee08b" stroke="#fee08b" stroke-width="0.35"/>
<path d="M536.05,64.55A77,77 0 0 1 537.99,62.69L577.34,104.88A19.3,19.3 0 0 0 576.85,105.35Z" fill="#3288bd" stroke="#3288bd" stroke-width="0.35"/>
<path d="M537.99,62.69A77,77 0 0 1 539.98,60.89L577.84,104.43A19.3,19.3 0 0 0 577.34,104.88Z" fill="#fee08b" stroke="#fee08b" stroke-width="0.35"/>
<path d="M539.98,60.89A77,77 0 0 1 541.52,59.58L578.22,104.11A19.3,19.3 0 0 0 577.84,104.43Z" fill="#d53e4f" stroke="#d53e4f" stroke-width="0.35"/>
<path d="M541.52,59.58A77,77 0 0 1 543.63,57.91L578.75,103.69A19.3,19.3 0 0 0 578.22,104.11Z" fill="#e6f598" stroke="#e6f598" stroke-width="0.35"/>
<path d="M543.63,57.91A77,77 0 0 1 545.24,56.71L579.16,103.39A19.3,19.3 0 0 0 578.75,103.69Z" fill="#3288bd" stroke="#3288bd" stroke-width="0.35"/>
<path d="M545.24,56.71A77,77 0 0 1 546.89,55.54L579.57,103.09A19.3,19.3 0 0 0 579.16,103.39Z" fill="#9e0142" stroke="#9e0142" stroke-width="0.35"/>
<path d="M546.89,55.54A77,77 0 0 1 548.28,54.60L579.92,102.86A19.3,19.3 0 0 0 579.57,103.09Z" fill="#ffffbf" stroke="#ffffbf" stroke-width="0.35"/>
<path d="M548.28,54.60A77,77 0 0 1 550.24,53.36L580.41,102.55A19.3,19.3 0 0 0 579.92,102.86Z" fill="#fee08b" stroke="#fee08b" stroke-width="0.35"/>
<path d="M550.24,53.36A77,77 0 0 1 551.75,52.46L580.79,102.32A19.3,19.3 0 0 0 580.41,102.55Z" fill="#e6f598" stroke="#e6f598" stroke-width="0.35"/>
<path d="M551.75,52.46A77,77 0 0 1 552.90,51.81L581.08,102.16A19.3,19.3 0 0 0 580.79,102.32Z" fill="#ffffbf" stroke="#ffffbf" stroke-width="0.35"/>
<path d="M552.90,51.81A77,77 0 0 1 554.59,50.89L581.50,101.93A19.3,19.3 0 0 0 581.08,102.16Z" fill="#abdda4" stroke="#abdda4" stroke-width="0.35"/>
<path d="M554.59,50.89A77,77 0 0 1 555.65,50.34L581.77,101.79A19.3,19.3 0 0 0 581.50,101.93Z" fill="#fdae61" stroke="#fdae61" stroke-width="0.35"/>
<path d="M555.65,50.34A77,77 0 0 1 556.73,49.80L582.03,101.66A19.3,19.3 0 0 0 581.77,101.79Z" fill="#abdda4" stroke="#abdda4" stroke-width="0.35"/>
<path d="M556.73,49.80A77,77 0 0 1 558.54,48.95L582.49,101.44A19.3,19.3 0 0 0 582.03,101.66Z" fill="#9e0142" stroke="#9e0142" stroke-width="0.35"/>
<path d="M558.54,48.95A77,77 0 0 1 560.73,47.99L583.04,101.20A19.3,19.3 0 0 0 582.49,101.44Z" fill="#3288bd" stroke="#3288bd" stroke-width="0.35"/>
<path d="M560.73,47.99A77,77 0 0 1 562.55,47.25L583.49,101.02A19.3,19.3 0 0 0 583.04,101.20Z" fill="#e6f598" stroke="#e6f598" stroke-width="0.35"/>
<path d="M562.55,47.25A77,77 0 0 1 563.75,46.80L583.79,100.90A19.3,19.3 0 0 0 583.49,101.02Z" fill="#9e0142" stroke="#9e0142" stroke-width="0.35"/>
<path d="M563.75,46.80A77,77 0 0 1 565.43,46.20L584.22,100.75A19.3,19.3 0 0 0 583.79,100.90Z" fill="#9e0142" stroke="#9e0142" stroke-width="0.35"/>
<path d="M565.43,46.20A77,77 0 0 1 565.86,46.05L584.32,100.72A19.3,19.3 0 0 0 584.22,100.75Z" fill="#f46d43" stroke="#f46d43" stroke-width="0.35"/>
<path d="M565.86,46.05A77,77 0 0 1 566.19,45.94L584.41,100.69A19.3,19.3 0 0 0 584.32,100.72Z" fill="#fee08b" stroke="#fee08b" stroke-width="0.35"/>
<path d="M566.19,45.94A77,77 0 0 1 566.77,45.75L584.55,100.64A19.3,19.3 0 0 0 584.41,100.69Z" fill="#66c2a5" stroke="#66c2a5" stroke-width="0.35"/>
<path d="M566.77,45.75A77,77 0 0 1 567.38,45.55L584.71,100.59A19.3,19.3 0 0 0 584.55,100.64Z" fill="#e6f598" stroke="#e6f598" stroke-width="0.35"/>
<path d="M567.38,45.55A77,77 0 0 1 567.99,45.36L584.86,100.54A19.3,19.3 0 0 0 584.71,100.59Z" fill="#e6f598" stroke="#e6f598" stroke-width="0.35"/>
<path d="M567.99,45.36A77,77 0 0 1 568.58,45.19L585.01,100.50A19.3,19.3 0 0 0 584.86,100.54Z" fill="#f46d43" stroke="#f46d43" stroke-width="0.35"/>
<path d="M568.58,45.19A77,77 0 0 1 569.48,44.92L585.23,100.43A19.3,19.3 0 0 0 585.01,100.50Z" fill="#5e4fa2" stroke="#5e4fa2" stroke-width="0.35"/>
<path d="M569.48,44.92A77,77 0 0 1 570.30,44.70L585.44,100.38A19.3,19.3 0 0 0 585.23,100.43Z" fill="#abdda4" stroke="#abdda4" stroke-width="0.35"/>
<path d="M570.30,44.70A77,77 0 0 1 570.80,44.56L585.56,100.34A19.3,19.3 0 0 0 585.44,100.38Z" fill="#f46d43" stroke="#f46d43" stroke-width="0.35"/>
<path d="M570.80,44.56A77,77 0 0 1 571.30,44.43L585.69,100.31A19.3,19.3 0 0 0 585.56,100.34Z" fill="#9e0142" stroke="#9e0142" stroke-width="0.35"/>
<path d="M571.30,44.43A77,77 0 0 1 572.07,44.24L585.88,100.26A19.3,19.3 0 0 0 585.69,100.31Z" fill="#fee08b" stroke="#fee08b" stroke-width="0.35"/>
<path d="M572.07,44.24A77,77 0 0 1 572.90,44.04L586.09,100.21A19.3,19.3 0 0 0 585.88,100.26Z" fill="#fdae61" stroke="#fdae61" stroke-width="0.35"/>
<path d="M572.90,44.04A77,77 0 0 1 573.79,43.83L586.31,100.16A19.3,19.3 0 0 0 586.09,100.21Z" fill="#66c2a5" stroke="#66c2a5" stroke-width="0.35"/>
<path d="M573.79,43.83A77,77 0 0 1 574.12,43.76L586.39,100.14A19.3,19.3 0 0 0 586.31,100.16Z" fill="#f46d43" stroke="#f46d43" stroke-width="0.35"/>
<path d="M574.12,43.76A77,77 0 0 1 574.99,43.58L586.61,100.10A19.3,19.3 0 0 0 586.39,100.14Z" fill="#fee08b" stroke="#fee08b" stroke-width="0.35"/>
<path d="M574.99,43.58A77,77 0 0 1 575.90,43.40L586.84,100.05A19.3,19.3 0 0 0 586.61,100.10Z" fill="#fee08b" stroke="#fee08b" stroke-width="0.35"/>
<path d="M575.90,43.40A77,77 0 0 1 576.27,43.33L586.93,100.03A19.3,19.3 0 0 0 586.84,100.05Z" fill="#e6f598" stroke="#e6f598" stroke-width="0.35"/>
<path d="M576.27,43.33A77,77 0 0 1 577.06,43.18L587.13,100.00A19.3,19.3 0 0 0 586.93,100.03Z" fill="#f46d43" stroke="#f46d43" stroke-width="0.35"/>
<path d="M577.06,43.18A77,77 0 0 1 577.45,43.11L587.23,99.98A19.3,19.3 0 0 0 587.13,100.00Z" fill="#fdae61" stroke="#fdae61" stroke-width="0.35"/>
<path d="M577.45,43.11A77,77 0 0 1 578.35,42.96L587.46,99.94A19.3,19.3 0 0 0 587.23,99.98Z" fill="#abdda4" stroke="#abdda4" stroke-width="0.35"/>
<path d="M578.35,42.96A77,77 0 0 1 578.76,42.90L587.56,99.93A19.3,19.3 0 0 0 587.46,99.94Z" fill="#f46d43" stroke="#f46d43" stroke-width="0.35"/>
<path d="M578.76,42.90A77,77 0 0 1 579.15,42.84L587.65,99.91A19.3,19.3 0 0 0 587.56,99.93Z" fill="#9e0142" stroke="#9e0142" stroke-width="0.35"/>
<path d="M579.15,42.84A77,77 0 0 1 579.96,42.73L587.86,99.88A19.3,19.3 0 0 0 587.65,99.91Z" fill="#d53e4f" stroke="#d53e4f" stroke-width="0.35"/>
<path d="M579.96,42.73A77,77 0 0 1 580.63,42.64L588.03,99.86A19.3,19.3 0 0 0 587.86,99.88Z" fill="#fee08b" stroke="#fee08b" stroke-width="0.35"/>
<path d="M580.63,42.64A77,77 0 0 1 581.07,42.58L588.14,99.85A19.3,19.3 0 0 0 588.03,99.86Z" fill="#abdda4" stroke="#abdda4" stroke-width="0.35"/>
<path d="M581.07,42.58A77,77 0 0 1 581.49,42.53L588.24,99.83A19.3,19.3 0 0 0 588.14,99.85Z" fill="#e6f598" stroke="#e6f598" stroke-width="0.35"/>
<path d="M581.49,42.53A77,77 0 0 1 581.89,42.48L588.34,99.82A19.3,19.3 0 0 0 588.24,99.83Z" fill="#fee08b" stroke="#fee08b" stroke-width="0.35"/>
<path d="M581.89,42.48A77,77 0 0 1 582.35,42.43L588.46,99.81A19.3,19.3 0 0 0 588.34,99.82Z" fill="#f46d43" stroke="#f46d43" stroke-width="0.35"/>
<path d="M582.35,42.43A77,77 0 0 1 583.27,42.34L588.69,99.79A19.3,19.3 0 0 0 588.46,99.81Z" fill="#abdda4" stroke="#abdda4" stroke-width="0.35"/>
<path d="M583.27,42.34A77,77 0 0 1 583.79,42.29L588.82,99.77A19.3,19.3 0 0 0 588.69,99.79Z" fill="#66c2a5" stroke="#66c2a5" stroke-width="0.35"/>
<path d="M583.79,42.29A77,77 0 0 1 584.25,42.25L588.93,99.76A19.3,19.3 0 0 0 588.82,99.77Z" fill="#fee08b" stroke="#fee08b" stroke-width="0.35"/>
<path d="M584.25,42.25A77,77 0 0 1 585.10,42.19L589.15,99.75A19.3,19.3 0 0 0 588.93,99.76Z" fill="#e6f598" stroke="#e6f598" stroke-width="0.35"/>
<path d="M585.10,42.19A77,77 0 0 1 585.50,42.16L589.25,99.74A19.3,19.3 0 0 0 589.15,99.75Z" fill="#5e4fa2" stroke="#5e4fa2" stroke-width="0.35"/>
<path d="M585.50,42.16A77,77 0 0 1 585.96,42.13L589.36,99.73A19.3,19.3 0 0 0 589.25,99.74Z" fill="#f46d43" stroke="#f46d43" stroke-width="0.35"/>
<path d="M585.96,42.13A77,77 0 0 1 586.76,42.09L589.56,99.72A19.3,19.3 0 0 0 589.36,99.73Z" fill="#fdae61" stroke="#fdae61" stroke-width="0.35"/>
<path d="M586.76,42.09A77,77 0 0 1 587.28,42.07L589.69,99.72A19.3,19.3 0 0 0 589.56,99.72Z" fill="#9e0142" stroke="#9e0142" stroke-width="0.35"/>
<path d="M587.28,42.07A77,77 0 0 1 587.67,42.05L589.79,99.71A19.3,19.3 0 0 0 589.69,99.72Z" fill="#e6f598" stroke="#e6f598" stroke-width="0.35"/>
<path d="M587.67,42.05A77,77 0 0 1 588.15,42.04L589.91,99.71A19.3,19.3 0 0 0 589.79,99.71Z" fill="#e6f598" stroke="#e6f598" stroke-width="0.35"/>
<path d="M588.15,42.04A77,77 0 0 1 588.71,42.02L590.05,99.71A19.3,19.3 0 0 0 589.91,99.71Z" fill="#fee08b" stroke="#fee08b" stroke-width="0.35"/>
<path d="M588.71,42.02A77,77 0 0 1 589.63,42.00L590.28,99.70A19.3,19.3 0 0 0 590.05,99.71Z" fill="#fee08b" stroke="#fee08b" stroke-width="0.35"/>
<path d="M589.63,42.00A77,77 0 0 1 590.31,42.00L590.45,99.70A19.3,19.3 0 0 0 590.28,99.70Z" fill="#66c2a5" stroke="#66c2a5" stroke-width="0.35"/>
<path d="M590.31,42.00A77,77 0 0 1 590.50,42.00L590.50,99.70A19.3,19.3 0 0 0 590.45,99.70Z" fill="#d53e4f" stroke="#d53e4f" stroke-width="0.35"/>
<rect x="371" y="83.1" width="37.8" height="13" rx="2" fill="#2b3440"/>
<text x="373.8" y="93.2" font-size="9.2" fill="#f4f4f4" textLength="32.4" lengthAdjust="spacingAndGlyphs">LG,PA: 22</text>
<path transform="translate(371.4,66.7) scale(0.95)" d="M0,0 L0,11 L2.6,8.4 L4.4,12.4 L6,11.7 L4.3,7.8 L7.8,7.8 Z" fill="#fff" stroke="#222" stroke-width="0.8" stroke-linejoin="round"/>
<text x="2" y="225" font-size="24" font-weight="bold" fill="#000">b</text>
<rect x="55.36" y="321.82" width="1.10" height="0.98" fill="#6baed6"/>
<rect x="57.05" y="317.88" width="1.10" height="4.92" fill="#5b9bc8"/>
<rect x="58.73" y="312.97" width="1.10" height="9.83" fill="#5b9bc8"/>
<rect x="60.41" y="311.98" width="1.10" height="10.82" fill="#6baed6"/>
<rect x="62.09" y="308.05" width="1.10" height="14.75" fill="#4682b4"/>
<rect x="63.78" y="304.12" width="1.10" height="18.68" fill="#5b9bc8"/>
<rect x="65.46" y="298.22" width="1.10" height="24.59" fill="#8fbcd8"/>
<rect x="67.14" y="301.17" width="1.10" height="21.63" fill="#b5d4e8"/>
<rect x="68.83" y="308.05" width="1.10" height="14.75" fill="#5b9bc8"/>
<rect x="70.51" y="303.13" width="1.10" height="19.67" fill="#9ecae1"/>
<rect x="72.19" y="305.10" width="1.10" height="17.70" fill="#5b9bc8"/>
<rect x="73.88" y="304.12" width="1.10" height="18.68" fill="#9ecae1"/>
<rect x="75.56" y="306.08" width="1.10" height="16.72" fill="#8fbcd8"/>
<rect x="77.24" y="310.02" width="1.10" height="12.78" fill="#4682b4"/>
<rect x="78.92" y="311.98" width="1.10" height="10.82" fill="#5b9bc8"/>
<rect x="80.61" y="306.08" width="1.10" height="16.72" fill="#6baed6"/>
<rect x="82.29" y="311.98" width="1.10" height="10.82" fill="#6baed6"/>
<rect x="83.97" y="311.98" width="1.10" height="10.82" fill="#b5d4e8"/>
<rect x="85.66" y="309.03" width="1.10" height="13.77" fill="#8fbcd8"/>
<rect x="87.34" y="312.97" width="1.10" height="9.83" fill="#5b9bc8"/>
<rect x="89.02" y="313.95" width="1.10" height="8.85" fill="#5b9bc8"/>
<rect x="90.70" y="314.93" width="1.10" height="7.87" fill="#8fbcd8"/>
<rect x="92.39" y="316.90" width="1.10" height="5.90" fill="#8fbcd8"/>
<rect x="94.07" y="314.93" width="1.10" height="7.87" fill="#b5d4e8"/>
<rect x="95.75" y="314.93" width="1.10" height="7.87" fill="#6baed6"/>
<rect x="97.44" y="317.88" width="1.10" height="4.92" fill="#6baed6"/>
<rect x="99.12" y="315.92" width="1.10" height="6.88" fill="#b5d4e8"/>
<rect x="100.80" y="316.90" width="1.10" height="5.90" fill="#6baed6"/>
<rect x="102.49" y="319.85" width="1.10" height="2.95" fill="#5b9bc8"/>
<rect x="104.17" y="316.90" width="1.10" height="5.90" fill="#8fbcd8"/>
<rect x="105.85" y="316.90" width="1.10" height="5.90" fill="#b5d4e8"/>
<rect x="107.53" y="316.90" width="1.10" height="5.90" fill="#9ecae1"/>
<rect x="109.22" y="318.87" width="1.10" height="3.93" fill="#b5d4e8"/>
<rect x="110.90" y="317.88" width="1.10" height="4.92" fill="#9ecae1"/>
<rect x="112.58" y="317.88" width="1.10" height="4.92" fill="#6baed6"/>
<rect x="114.27" y="316.90" width="1.10" height="5.90" fill="#5b9bc8"/>
<rect x="115.95" y="318.87" width="1.10" height="3.93" fill="#9ecae1"/>
<rect x="117.63" y="319.85" width="1.10" height="2.95" fill="#4682b4"/>
<rect x="119.32" y="317.88" width="1.10" height="4.92" fill="#9ecae1"/>
<rect x="121.00" y="318.87" width="1.10" height="3.93" fill="#4682b4"/>
<rect x="122.68" y="317.88" width="1.10" height="4.92" fill="#8fbcd8"/>
<rect x="124.36" y="317.88" width="1.10" height="4.92" fill="#5b9bc8"/>
<rect x="126.05" y="317.88" width="1.10" height="4.92" fill="#b5d4e8"/>
<rect x="127.73" y="316.90" width="1.10" height="5.90" fill="#8fbcd8"/>
<rect x="129.41" y="320.83" width="1.10" height="1.97" fill="#b5d4e8"/>
<rect x="131.10" y="321.82" width="1.10" height="0.98" fill="#8fbcd8"/>
<rect x="132.78" y="320.83" width="1.10" height="1.97" fill="#8fbcd8"/>
<rect x="136.15" y="321.82" width="1.10" height="0.98" fill="#b5d4e8"/>
<rect x="137.83" y="320.83" width="1.10" height="1.97" fill="#5b9bc8"/>
<rect x="141.20" y="322.31" width="1.10" height="0.49" fill="#8fbcd8"/>
<rect x="144.56" y="322.31" width="1.10" height="0.49" fill="#6baed6"/>
<rect x="149.61" y="322.31" width="1.10" height="0.49" fill="#4682b4"/>
<rect x="154.66" y="322.31" width="1.10" height="0.49" fill="#9ecae1"/>
<path d="M28.8,200H31.8V322.8H28.8" fill="none" stroke="#333" stroke-width="0.8"/>
<line x1="28.8" y1="322.80" x2="31.8" y2="322.80" stroke="#333" stroke-width="0.6"/>
<text x="27.8" y="324.80" font-size="6" fill="#333" text-anchor="end">0</text>
<line x1="28.8" y1="312.97" x2="31.8" y2="312.97" stroke="#333" stroke-width="0.6"/>
<text x="27.8" y="314.97" font-size="6" fill="#333" text-anchor="end">20</text>
<line x1="28.8" y1="303.13" x2="31.8" y2="303.13" stroke="#333" stroke-width="0.6"/>
<text x="27.8" y="305.13" font-size="6" fill="#333" text-anchor="end">40</text>
<line x1="28.8" y1="293.30" x2="31.8" y2="293.30" stroke="#333" stroke-width="0.6"/>
<text x="27.8" y="295.30" font-size="6" fill="#333" text-anchor="end">60</text>
<line x1="28.8" y1="283.46" x2="31.8" y2="283.46" stroke="#333" stroke-width="0.6"/>
<text x="27.8" y="285.46" font-size="6" fill="#333" text-anchor="end">80</text>
<line x1="28.8" y1="273.63" x2="31.8" y2="273.63" stroke="#333" stroke-width="0.6"/>
<text x="27.8" y="275.63" font-size="6" fill="#333" text-anchor="end">100</text>
<line x1="28.8" y1="263.80" x2="31.8" y2="263.80" stroke="#333" stroke-width="0.6"/>
<text x="27.8" y="265.80" font-size="6" fill="#333" text-anchor="end">120</text>
<line x1="28.8" y1="253.96" x2="31.8" y2="253.96" stroke="#333" stroke-width="0.6"/>
<text x="27.8" y="255.96" font-size="6" fill="#333" text-anchor="end">140</text>
<line x1="28.8" y1="244.13" x2="31.8" y2="244.13" stroke="#333" stroke-width="0.6"/>
<text x="27.8" y="246.13" font-size="6" fill="#333" text-anchor="end">160</text>
<line x1="28.8" y1="234.29" x2="31.8" y2="234.29" stroke="#333" stroke-width="0.6"/>
<text x="27.8" y="236.29" font-size="6" fill="#333" text-anchor="end">180</text>
<line x1="28.8" y1="224.46" x2="31.8" y2="224.46" stroke="#333" stroke-width="0.6"/>
<text x="27.8" y="226.46" font-size="6" fill="#333" text-anchor="end">200</text>
<line x1="28.8" y1="214.63" x2="31.8" y2="214.63" stroke="#333" stroke-width="0.6"/>
<text x="27.8" y="216.63" font-size="6" fill="#333" text-anchor="end">220</text>
<line x1="28.8" y1="204.79" x2="31.8" y2="204.79" stroke="#333" stroke-width="0.6"/>
<text x="27.8" y="206.79" font-size="6" fill="#333" text-anchor="end">240</text>
<path d="M31.8,325.8V322.8H284.3V325.8" fill="none" stroke="#333" stroke-width="1.2"/>
<line x1="31.80" y1="322.8" x2="31.80" y2="325.8" stroke="#333" stroke-width="0.6"/>
<text x="31.80" y="332.8" font-size="6" fill="#333" text-anchor="middle">0</text>
<line x1="65.46" y1="322.8" x2="65.46" y2="325.8" stroke="#333" stroke-width="0.6"/>
<text x="65.46" y="332.8" font-size="6" fill="#333" text-anchor="middle">20</text>
<line x1="99.12" y1="322.8" x2="99.12" y2="325.8" stroke="#333" stroke-width="0.6"/>
<text x="99.12" y="332.8" font-size="6" fill="#333" text-anchor="middle">40</text>
<line x1="132.78" y1="322.8" x2="132.78" y2="325.8" stroke="#333" stroke-width="0.6"/>
<text x="132.78" y="332.8" font-size="6" fill="#333" text-anchor="middle">60</text>
<line x1="166.44" y1="322.8" x2="166.44" y2="325.8" stroke="#333" stroke-width="0.6"/>
<text x="166.44" y="332.8" font-size="6" fill="#333" text-anchor="middle">80</text>
<line x1="200.10" y1="322.8" x2="200.10" y2="325.8" stroke="#333" stroke-width="0.6"/>
<text x="200.10" y="332.8" font-size="6" fill="#333" text-anchor="middle">100</text>
<line x1="233.76" y1="322.8" x2="233.76" y2="325.8" stroke="#333" stroke-width="0.6"/>
<text x="233.76" y="332.8" font-size="6" fill="#333" text-anchor="middle">120</text>
<line x1="267.42" y1="322.8" x2="267.42" y2="325.8" stroke="#333" stroke-width="0.6"/>
<text x="267.42" y="332.8" font-size="6" fill="#333" text-anchor="middle">140</text>
<text transform="translate(14.5,262) rotate(-90)" font-size="10" fill="#000" text-anchor="middle">count</text>
<text x="157.6" y="340.7" font-size="9.6" fill="#000" text-anchor="middle">Number of vertices</text>
<rect x="407.84" y="218.84" width="0.84" height="103.96" fill="#3a87c0"/>
<rect x="408.68" y="200.76" width="0.84" height="122.04" fill="#4b8fc4"/>
<rect x="409.51" y="205.28" width="0.84" height="117.52" fill="#3a87c0"/>
<rect x="410.35" y="200.76" width="0.84" height="122.04" fill="#2f7fbf"/>
<rect x="411.19" y="212.51" width="0.84" height="110.29" fill="#4b8fc4"/>
<rect x="412.03" y="250.48" width="0.84" height="72.32" fill="#4b8fc4"/>
<rect x="412.86" y="252.29" width="0.84" height="70.51" fill="#3a87c0"/>
<rect x="413.70" y="259.52" width="0.84" height="63.28" fill="#3a87c0"/>
<rect x="414.54" y="255.00" width="0.84" height="67.80" fill="#3a87c0"/>
<rect x="415.38" y="274.89" width="0.84" height="47.91" fill="#3a87c0"/>
<rect x="416.21" y="275.79" width="0.84" height="47.01" fill="#4b8fc4"/>
<rect x="417.05" y="277.60" width="0.84" height="45.20" fill="#2f7fbf"/>
<rect x="417.89" y="271.27" width="0.84" height="51.53" fill="#4b8fc4"/>
<rect x="418.73" y="277.60" width="0.84" height="45.20" fill="#3a87c0"/>
<rect x="419.56" y="292.06" width="0.84" height="30.74" fill="#3a87c0"/>
<rect x="420.40" y="286.64" width="0.84" height="36.16" fill="#2f7fbf"/>
<rect x="421.24" y="295.68" width="0.84" height="27.12" fill="#2f7fbf"/>
<rect x="422.07" y="295.68" width="0.84" height="27.12" fill="#4b8fc4"/>
<rect x="422.91" y="292.97" width="0.84" height="29.83" fill="#4b8fc4"/>
<rect x="423.75" y="304.72" width="0.84" height="18.08" fill="#3a87c0"/>
<rect x="424.59" y="306.53" width="0.84" height="16.27" fill="#3a87c0"/>
<rect x="425.43" y="309.24" width="0.84" height="13.56" fill="#4b8fc4"/>
<rect x="426.26" y="301.10" width="0.84" height="21.70" fill="#3a87c0"/>
<rect x="427.10" y="308.34" width="0.84" height="14.46" fill="#3a87c0"/>
<rect x="427.94" y="302.91" width="0.84" height="19.89" fill="#2f7fbf"/>
<rect x="428.78" y="302.91" width="0.84" height="19.89" fill="#4b8fc4"/>
<rect x="429.61" y="304.72" width="0.84" height="18.08" fill="#4b8fc4"/>
<rect x="430.45" y="300.20" width="0.84" height="22.60" fill="#3a87c0"/>
<rect x="431.29" y="309.24" width="0.84" height="13.56" fill="#3a87c0"/>
<rect x="432.12" y="313.76" width="0.84" height="9.04" fill="#4b8fc4"/>
<rect x="432.96" y="313.76" width="0.84" height="9.04" fill="#4b8fc4"/>
<rect x="433.80" y="317.38" width="0.84" height="5.42" fill="#2f7fbf"/>
<rect x="434.64" y="311.95" width="0.84" height="10.85" fill="#2f7fbf"/>
<rect x="435.48" y="311.95" width="0.84" height="10.85" fill="#4b8fc4"/>
<rect x="436.31" y="313.76" width="0.84" height="9.04" fill="#3a87c0"/>
<rect x="437.15" y="317.38" width="0.84" height="5.42" fill="#2f7fbf"/>
<rect x="437.99" y="317.38" width="0.84" height="5.42" fill="#4b8fc4"/>
<rect x="438.82" y="316.47" width="0.84" height="6.33" fill="#2f7fbf"/>
<rect x="439.66" y="315.57" width="0.84" height="7.23" fill="#4b8fc4"/>
<rect x="440.50" y="318.28" width="0.84" height="4.52" fill="#2f7fbf"/>
<rect x="441.34" y="320.09" width="0.84" height="2.71" fill="#3a87c0"/>
<rect x="442.18" y="313.76" width="0.84" height="9.04" fill="#3a87c0"/>
<rect x="443.01" y="317.38" width="0.84" height="5.42" fill="#3a87c0"/>
<rect x="443.85" y="320.09" width="0.84" height="2.71" fill="#4b8fc4"/>
<rect x="444.69" y="318.28" width="0.84" height="4.52" fill="#4b8fc4"/>
<rect x="445.53" y="319.18" width="0.84" height="3.62" fill="#3a87c0"/>
<rect x="446.36" y="315.57" width="0.84" height="7.23" fill="#2f7fbf"/>
<rect x="447.20" y="313.76" width="0.84" height="9.04" fill="#4b8fc4"/>
<rect x="448.04" y="317.38" width="0.84" height="5.42" fill="#3a87c0"/>
<rect x="448.88" y="314.66" width="0.84" height="8.14" fill="#4b8fc4"/>
<rect x="449.71" y="318.28" width="0.84" height="4.52" fill="#2f7fbf"/>
<rect x="450.55" y="319.18" width="0.84" height="3.62" fill="#2f7fbf"/>
<rect x="451.39" y="317.38" width="0.84" height="5.42" fill="#4b8fc4"/>
<rect x="452.23" y="317.38" width="0.84" height="5.42" fill="#2f7fbf"/>
<rect x="453.06" y="320.09" width="0.84" height="2.71" fill="#3a87c0"/>
<rect x="453.90" y="317.38" width="0.84" height="5.42" fill="#4b8fc4"/>
<rect x="454.74" y="314.66" width="0.84" height="8.14" fill="#4b8fc4"/>
<rect x="455.57" y="316.47" width="0.84" height="6.33" fill="#2f7fbf"/>
<rect x="456.41" y="318.28" width="0.84" height="4.52" fill="#4b8fc4"/>
<rect x="457.25" y="314.66" width="0.84" height="8.14" fill="#4b8fc4"/>
<rect x="458.09" y="318.28" width="0.84" height="4.52" fill="#4b8fc4"/>
<rect x="458.93" y="319.18" width="0.84" height="3.62" fill="#3a87c0"/>
<rect x="459.76" y="318.28" width="0.84" height="4.52" fill="#3a87c0"/>
<rect x="460.60" y="317.38" width="0.84" height="5.42" fill="#4b8fc4"/>
<rect x="461.44" y="317.38" width="0.84" height="5.42" fill="#4b8fc4"/>
<rect x="462.28" y="313.76" width="0.84" height="9.04" fill="#3a87c0"/>
<rect x="463.11" y="318.28" width="0.84" height="4.52" fill="#3a87c0"/>
<rect x="463.95" y="318.28" width="0.84" height="4.52" fill="#3a87c0"/>
<rect x="464.79" y="320.09" width="0.84" height="2.71" fill="#4b8fc4"/>
<rect x="465.62" y="320.09" width="0.84" height="2.71" fill="#2f7fbf"/>
<rect x="466.46" y="317.38" width="0.84" height="5.42" fill="#4b8fc4"/>
<rect x="467.30" y="317.38" width="0.84" height="5.42" fill="#2f7fbf"/>
<rect x="468.14" y="319.18" width="0.84" height="3.62" fill="#2f7fbf"/>
<rect x="468.98" y="319.18" width="0.84" height="3.62" fill="#2f7fbf"/>
<rect x="469.81" y="317.38" width="0.84" height="5.42" fill="#4b8fc4"/>
<rect x="470.65" y="316.47" width="0.84" height="6.33" fill="#2f7fbf"/>
<rect x="471.49" y="318.28" width="0.84" height="4.52" fill="#4b8fc4"/>
<rect x="472.33" y="318.28" width="0.84" height="4.52" fill="#3a87c0"/>
<rect x="473.16" y="319.18" width="0.84" height="3.62" fill="#2f7fbf"/>
<rect x="474.00" y="318.28" width="0.84" height="4.52" fill="#3a87c0"/>
<rect x="474.84" y="320.09" width="0.84" height="2.71" fill="#3a87c0"/>
<rect x="475.68" y="317.38" width="0.84" height="5.42" fill="#4b8fc4"/>
<rect x="476.51" y="320.99" width="0.84" height="1.81" fill="#3a87c0"/>
<rect x="477.35" y="316.47" width="0.84" height="6.33" fill="#2f7fbf"/>
<rect x="478.19" y="320.09" width="0.84" height="2.71" fill="#2f7fbf"/>
<rect x="479.03" y="319.18" width="0.84" height="3.62" fill="#4b8fc4"/>
<rect x="479.86" y="319.18" width="0.84" height="3.62" fill="#4b8fc4"/>
<rect x="480.70" y="317.38" width="0.84" height="5.42" fill="#3a87c0"/>
<rect x="481.54" y="320.09" width="0.84" height="2.71" fill="#4b8fc4"/>
<rect x="482.38" y="316.47" width="0.84" height="6.33" fill="#4b8fc4"/>
<rect x="483.21" y="317.38" width="0.84" height="5.42" fill="#2f7fbf"/>
<rect x="484.05" y="320.09" width="0.84" height="2.71" fill="#2f7fbf"/>
<rect x="484.89" y="318.28" width="0.84" height="4.52" fill="#4b8fc4"/>
<rect x="485.73" y="318.28" width="0.84" height="4.52" fill="#2f7fbf"/>
<rect x="486.56" y="321.90" width="0.84" height="0.90" fill="#2f7fbf"/>
<rect x="487.40" y="318.28" width="0.84" height="4.52" fill="#3a87c0"/>
<rect x="488.24" y="320.99" width="0.84" height="1.81" fill="#4b8fc4"/>
<rect x="489.08" y="320.99" width="0.84" height="1.81" fill="#3a87c0"/>
<rect x="489.91" y="320.09" width="0.84" height="2.71" fill="#3a87c0"/>
<rect x="490.75" y="321.90" width="0.84" height="0.90" fill="#2f7fbf"/>
<rect x="491.59" y="320.09" width="0.84" height="2.71" fill="#3a87c0"/>
<rect x="492.43" y="320.09" width="0.84" height="2.71" fill="#4b8fc4"/>
<rect x="493.26" y="320.09" width="0.84" height="2.71" fill="#2f7fbf"/>
<rect x="494.10" y="320.09" width="0.84" height="2.71" fill="#2f7fbf"/>
<rect x="494.94" y="319.18" width="0.84" height="3.62" fill="#3a87c0"/>
<rect x="495.78" y="320.99" width="0.84" height="1.81" fill="#3a87c0"/>
<rect x="496.61" y="320.09" width="0.84" height="2.71" fill="#4b8fc4"/>
<rect x="497.45" y="320.99" width="0.84" height="1.81" fill="#3a87c0"/>
<rect x="498.29" y="319.18" width="0.84" height="3.62" fill="#4b8fc4"/>
<rect x="499.12" y="319.18" width="0.84" height="3.62" fill="#4b8fc4"/>
<rect x="499.96" y="320.99" width="0.84" height="1.81" fill="#3a87c0"/>
<rect x="500.80" y="320.99" width="0.84" height="1.81" fill="#3a87c0"/>
<rect x="501.64" y="321.90" width="0.84" height="0.90" fill="#4b8fc4"/>
<rect x="502.48" y="320.09" width="0.84" height="2.71" fill="#2f7fbf"/>
<rect x="503.31" y="321.90" width="0.84" height="0.90" fill="#3a87c0"/>
<rect x="504.15" y="320.99" width="0.84" height="1.81" fill="#4b8fc4"/>
<rect x="504.99" y="320.09" width="0.84" height="2.71" fill="#2f7fbf"/>
<rect x="505.83" y="320.09" width="0.84" height="2.71" fill="#2f7fbf"/>
<rect x="506.66" y="319.18" width="0.84" height="3.62" fill="#4b8fc4"/>
<rect x="507.50" y="321.90" width="0.84" height="0.90" fill="#3a87c0"/>
<rect x="508.34" y="318.28" width="0.84" height="4.52" fill="#4b8fc4"/>
<rect x="509.18" y="320.99" width="0.84" height="1.81" fill="#4b8fc4"/>
<rect x="510.01" y="321.90" width="0.84" height="0.90" fill="#4b8fc4"/>
<rect x="510.85" y="320.99" width="0.84" height="1.81" fill="#3a87c0"/>
<rect x="511.69" y="320.09" width="0.84" height="2.71" fill="#2f7fbf"/>
<rect x="513.36" y="320.99" width="0.84" height="1.81" fill="#4b8fc4"/>
<rect x="515.04" y="320.99" width="0.84" height="1.81" fill="#2f7fbf"/>
<rect x="515.88" y="321.90" width="0.84" height="0.90" fill="#2f7fbf"/>
<rect x="516.71" y="320.09" width="0.84" height="2.71" fill="#3a87c0"/>
<rect x="517.55" y="321.90" width="0.84" height="0.90" fill="#4b8fc4"/>
<rect x="519.23" y="321.90" width="0.84" height="0.90" fill="#2f7fbf"/>
<rect x="520.06" y="320.99" width="0.84" height="1.81" fill="#3a87c0"/>
<rect x="520.90" y="321.90" width="0.84" height="0.90" fill="#4b8fc4"/>
<rect x="521.74" y="320.09" width="0.84" height="2.71" fill="#4b8fc4"/>
<rect x="522.58" y="321.90" width="0.84" height="0.90" fill="#3a87c0"/>
<rect x="523.41" y="320.09" width="0.84" height="2.71" fill="#4b8fc4"/>
<rect x="524.25" y="321.90" width="0.84" height="0.90" fill="#4b8fc4"/>
<rect x="525.09" y="320.99" width="0.84" height="1.81" fill="#2f7fbf"/>
<rect x="526.76" y="320.09" width="0.84" height="2.71" fill="#3a87c0"/>
<rect x="527.60" y="320.99" width="0.84" height="1.81" fill="#4b8fc4"/>
<rect x="528.44" y="321.90" width="0.84" height="0.90" fill="#2f7fbf"/>
<rect x="529.27" y="321.90" width="0.84" height="0.90" fill="#3a87c0"/>
<rect x="530.95" y="320.99" width="0.84" height="1.81" fill="#4b8fc4"/>
<rect x="532.62" y="321.90" width="0.84" height="0.90" fill="#3a87c0"/>
<rect x="533.46" y="321.90" width="0.84" height="0.90" fill="#4b8fc4"/>
<rect x="534.30" y="321.90" width="0.84" height="0.90" fill="#3a87c0"/>
<rect x="535.14" y="321.90" width="0.84" height="0.90" fill="#4b8fc4"/>
<rect x="539.33" y="321.90" width="0.84" height="0.90" fill="#4b8fc4"/>
<rect x="540.16" y="321.90" width="0.84" height="0.90" fill="#4b8fc4"/>
<rect x="542.67" y="321.90" width="0.84" height="0.90" fill="#2f7fbf"/>
<rect x="417" y="200" width="50.3" height="122.8" fill="#777" fill-opacity="0.33"/>
<path d="M397.3,200H400.3V322.8H397.3" fill="none" stroke="#333" stroke-width="0.8"/>
<line x1="397.3" y1="322.80" x2="400.3" y2="322.80" stroke="#333" stroke-width="0.6"/>
<text x="396.3" y="324.80" font-size="6" fill="#333" text-anchor="end">0</text>
<line x1="397.3" y1="313.76" x2="400.3" y2="313.76" stroke="#333" stroke-width="0.6"/>
<text x="396.3" y="315.76" font-size="6" fill="#333" text-anchor="end">10</text>
<line x1="397.3" y1="304.72" x2="400.3" y2="304.72" stroke="#333" stroke-width="0.6"/>
<text x="396.3" y="306.72" font-size="6" fill="#333" text-anchor="end">20</text>
<line x1="397.3" y1="295.68" x2="400.3" y2="295.68" stroke="#333" stroke-width="0.6"/>
<text x="396.3" y="297.68" font-size="6" fill="#333" text-anchor="end">30</text>
<line x1="397.3" y1="286.64" x2="400.3" y2="286.64" stroke="#333" stroke-width="0.6"/>
<text x="396.3" y="288.64" font-size="6" fill="#333" text-anchor="end">40</text>
<line x1="397.3" y1="277.60" x2="400.3" y2="277.60" stroke="#333" stroke-width="0.6"/>
<text x="396.3" y="279.60" font-size="6" fill="#333" text-anchor="end">50</text>
<line x1="397.3" y1="268.56" x2="400.3" y2="268.56" stroke="#333" stroke-width="0.6"/>
<text x="396.3" y="270.56" font-size="6" fill="#333" text-anchor="end">60</text>
<line x1="397.3" y1="259.52" x2="400.3" y2="259.52" stroke="#333" stroke-width="0.6"/>
<text x="396.3" y="261.52" font-size="6" fill="#333" text-anchor="end">70</text>
<line x1="397.3" y1="250.48" x2="400.3" y2="250.48" stroke="#333" stroke-width="0.6"/>
<text x="396.3" y="252.48" font-size="6" fill="#333" text-anchor="end">80</text>
<line x1="397.3" y1="241.44" x2="400.3" y2="241.44" stroke="#333" stroke-width="0.6"/>
<text x="396.3" y="243.44" font-size="6" fill="#333" text-anchor="end">90</text>
<line x1="397.3" y1="232.40" x2="400.3" y2="232.40" stroke="#333" stroke-width="0.6"/>
<text x="396.3" y="234.40" font-size="6" fill="#333" text-anchor="end">100</text>
<line x1="397.3" y1="223.36" x2="400.3" y2="223.36" stroke="#333" stroke-width="0.6"/>
<text x="396.3" y="225.36" font-size="6" fill="#333" text-anchor="end">110</text>
<line x1="397.3" y1="214.32" x2="400.3" y2="214.32" stroke="#333" stroke-width="0.6"/>
<text x="396.3" y="216.32" font-size="6" fill="#333" text-anchor="end">120</text>
<line x1="397.3" y1="205.28" x2="400.3" y2="205.28" stroke="#333" stroke-width="0.6"/>
<text x="396.3" y="207.28" font-size="6" fill="#333" text-anchor="end">130</text>
<path d="M400.3,325.8V322.8H651.6V325.8" fill="none" stroke="#333" stroke-width="1.2"/>
<line x1="400.30" y1="322.8" x2="400.30" y2="325.8" stroke="#333" stroke-width="0.6"/>
<text x="400.30" y="332.8" font-size="6" fill="#333" text-anchor="middle">0</text>
<line x1="417.05" y1="322.8" x2="417.05" y2="325.8" stroke="#333" stroke-width="0.6"/>
<text x="417.05" y="332.8" font-size="6" fill="#333" text-anchor="middle">20</text>
<line x1="433.80" y1="322.8" x2="433.80" y2="325.8" stroke="#333" stroke-width="0.6"/>
<text x="433.80" y="332.8" font-size="6" fill="#333" text-anchor="middle">40</text>
<line x1="450.55" y1="322.8" x2="450.55" y2="325.8" stroke="#333" stroke-width="0.6"/>
<text x="450.55" y="332.8" font-size="6" fill="#333" text-anchor="middle">60</text>
<line x1="467.30" y1="322.8" x2="467.30" y2="325.8" stroke="#333" stroke-width="0.6"/>
<text x="467.30" y="332.8" font-size="6" fill="#333" text-anchor="middle">80</text>
<line x1="484.05" y1="322.8" x2="484.05" y2="325.8" stroke="#333" stroke-width="0.6"/>
<text x="484.05" y="332.8" font-size="6" fill="#333" text-anchor="middle">100</text>
<line x1="500.80" y1="322.8" x2="500.80" y2="325.8" stroke="#333" stroke-width="0.6"/>
<text x="500.80" y="332.8" font-size="6" fill="#333" text-anchor="middle">120</text>
<line x1="517.55" y1="322.8" x2="517.55" y2="325.8" stroke="#333" stroke-width="0.6"/>
<text x="517.55" y="332.8" font-size="6" fill="#333" text-anchor="middle">140</text>
<line x1="534.30" y1="322.8" x2="534.30" y2="325.8" stroke="#333" stroke-width="0.6"/>
<text x="534.30" y="332.8" font-size="6" fill="#333" text-anchor="middle">160</text>
<line x1="551.05" y1="322.8" x2="551.05" y2="325.8" stroke="#333" stroke-width="0.6"/>
<text x="551.05" y="332.8" font-size="6" fill="#333" text-anchor="middle">180</text>
<line x1="567.80" y1="322.8" x2="567.80" y2="325.8" stroke="#333" stroke-width="0.6"/>
<text x="567.80" y="332.8" font-size="6" fill="#333" text-anchor="middle">200</text>
<line x1="584.55" y1="322.8" x2="584.55" y2="325.8" stroke="#333" stroke-width="0.6"/>
<text x="584.55" y="332.8" font-size="6" fill="#333" text-anchor="middle">220</text>
<line x1="601.30" y1="322.8" x2="601.30" y2="325.8" stroke="#333" stroke-width="0.6"/>
<text x="601.30" y="332.8" font-size="6" fill="#333" text-anchor="middle">240</text>
<line x1="618.05" y1="322.8" x2="618.05" y2="325.8" stroke="#333" stroke-width="0.6"/>
<text x="618.05" y="332.8" font-size="6" fill="#333" text-anchor="middle">260</text>
<line x1="634.80" y1="322.8" x2="634.80" y2="325.8" stroke="#333" stroke-width="0.6"/>
<text x="634.80" y="332.8" font-size="6" fill="#333" text-anchor="middle">280</text>
<line x1="651.55" y1="322.8" x2="651.55" y2="325.8" stroke="#333" stroke-width="0.6"/>
<text x="651.55" y="332.8" font-size="6" fill="#333" text-anchor="middle">300</text>
<text transform="translate(383.5,262) rotate(-90)" font-size="10" fill="#000" text-anchor="middle">count</text>
<text x="526.5" y="340.2" font-size="9.5" fill="#000" text-anchor="middle">Number of edges</text>
<rect x="0" y="349.2" width="685" height="2.6" fill="#555"/>
<text x="3" y="416.5" font-size="24" font-weight="bold" fill="#000">c</text>
<text x="3" y="635.5" font-size="24" font-weight="bold" fill="#000">d</text>
<path d="M81.80,450.70C87.15,445.35 104.37,426.90 113.90,418.60C123.43,410.30 130.98,406.00 139.00,400.90C147.02,395.80 154.00,391.88 162.00,388.00C170.00,384.12 177.38,380.63 187.00,377.60C196.62,374.57 201.67,371.33 219.75,369.80C237.83,368.27 278.21,367.58 295.50,368.40C312.79,369.22 310.25,370.10 323.50,374.70C336.75,379.30 362.67,390.02 375.00,396.00C387.33,401.98 390.30,405.38 397.50,410.60C404.70,415.82 411.32,420.97 418.20,427.30C425.08,433.63 432.78,441.52 438.80,448.60C444.82,455.68 449.45,462.43 454.30,469.80C459.15,477.17 463.87,484.87 467.90,492.80C471.93,500.73 475.45,509.02 478.50,517.40C481.55,525.78 484.07,534.23 486.20,543.10C488.33,551.97 490.22,561.65 491.30,570.60C492.38,579.55 492.47,592.43 492.70,596.80" fill="none" stroke="#f3e0b0" stroke-width="9.5" stroke-linejoin="round"/>
<path d="M43.70,517.60C42.33,522.07 37.62,535.50 35.50,544.40C33.38,553.30 31.98,562.23 31.00,571.00C30.02,579.77 29.83,592.67 29.60,597.00" fill="none" stroke="#f4b9c9" stroke-width="8"/>
<path d="M113.90,418.60A82.42,82.42 0 0,0 219.75,369.80" fill="none" stroke="#d6e0f5" stroke-width="2.2"/>
<path d="M113.90,418.60A82.42,82.42 0 0,0 219.75,369.80" fill="none" stroke="#b3c2e8" stroke-width="2.8" stroke-linecap="round" stroke-dasharray="0.01,3.0"/>
<path d="M113.90,418.60A185.31,185.31 0 0,0 375.00,396.00" fill="none" stroke="#d6e0f5" stroke-width="2.2"/>
<path d="M113.90,418.60A185.31,185.31 0 0,0 375.00,396.00" fill="none" stroke="#b3c2e8" stroke-width="2.8" stroke-linecap="round" stroke-dasharray="0.01,3.0"/>
<path d="M81.80,450.70A179.16,179.16 0 0,0 323.50,374.70" fill="none" stroke="#d6e0f5" stroke-width="2.2"/>
<path d="M81.80,450.70A179.16,179.16 0 0,0 323.50,374.70" fill="none" stroke="#b3c2e8" stroke-width="2.8" stroke-linecap="round" stroke-dasharray="0.01,3.0"/>
<path d="M43.70,517.60A162.54,162.54 0 0,0 219.75,369.80" fill="none" stroke="#5a75c4" stroke-width="2.9" stroke-opacity="0.85"/>
<path d="M35.50,544.40A142.24,142.24 0 0,0 162.00,388.00" fill="none" stroke="#5a75c4" stroke-width="2.9" stroke-opacity="0.85"/>
<path d="M31.00,571.00A142.47,142.47 0 0,0 139.00,400.90" fill="none" stroke="#5a75c4" stroke-width="2.9" stroke-opacity="0.85"/>
<path d="M31.00,571.00A159.14,159.14 0 0,0 162.00,388.00" fill="none" stroke="#5a75c4" stroke-width="2.9" stroke-opacity="0.85"/>
<path d="M31.00,571.00A175.70,175.70 0 0,0 187.00,377.60" fill="none" stroke="#5a75c4" stroke-width="2.9" stroke-opacity="0.85"/>
<path d="M31.00,571.00A195.07,195.07 0 0,0 219.75,369.80" fill="none" stroke="#5a75c4" stroke-width="2.9" stroke-opacity="0.85"/>
<path d="M29.60,597.00A174.94,174.94 0 0,0 162.00,388.00" fill="none" stroke="#5a75c4" stroke-width="2.9" stroke-opacity="0.85"/>
<path d="M29.60,597.00A190.93,190.93 0 0,0 187.00,377.60" fill="none" stroke="#5a75c4" stroke-width="2.9" stroke-opacity="0.85"/>
<path d="M295.50,368.40A20.29,20.29 0 0,0 323.50,374.70" fill="none" stroke="#5a75c4" stroke-width="2.9" stroke-opacity="0.85"/>
<path d="M323.50,374.70A76.60,76.60 0 0,0 418.20,427.30" fill="none" stroke="#5a75c4" stroke-width="2.9" stroke-opacity="0.85"/>
<path d="M375.00,396.00A94.87,94.87 0 0,0 467.90,492.80" fill="none" stroke="#5a75c4" stroke-width="2.9" stroke-opacity="0.85"/>
<path d="M375.00,396.00A76.60,76.60 0 0,0 454.30,469.80" fill="none" stroke="#5a75c4" stroke-width="2.9" stroke-opacity="0.85"/>
<path d="M397.50,410.60A58.01,58.01 0 0,0 454.30,469.80" fill="none" stroke="#5a75c4" stroke-width="2.9" stroke-opacity="0.85"/>
<path d="M397.50,410.60A76.53,76.53 0 0,0 467.90,492.80" fill="none" stroke="#5a75c4" stroke-width="2.9" stroke-opacity="0.85"/>
<path d="M418.20,427.30A39.43,39.43 0 0,0 454.30,469.80" fill="none" stroke="#5a75c4" stroke-width="2.9" stroke-opacity="0.85"/>
<path d="M418.20,427.30A20.95,20.95 0 0,0 438.80,448.60" fill="none" stroke="#5a75c4" stroke-width="2.9" stroke-opacity="0.85"/>
<path d="M438.80,448.60A74.76,74.76 0 0,0 486.20,543.10" fill="none" stroke="#5a75c4" stroke-width="2.9" stroke-opacity="0.85"/>
<path d="M478.50,517.40A38.69,38.69 0 0,0 491.30,570.60" fill="none" stroke="#5a75c4" stroke-width="2.9" stroke-opacity="0.85"/>
<path d="M467.90,492.80A57.45,57.45 0 0,0 491.30,570.60" fill="none" stroke="#5a75c4" stroke-width="2.9" stroke-opacity="0.85"/>
<path d="M467.90,492.80A75.60,75.60 0 0,0 492.70,596.80" fill="none" stroke="#5a75c4" stroke-width="2.9" stroke-opacity="0.85"/>
<circle cx="81.8" cy="450.7" r="8.8" fill="#a3238a" stroke="#8a1d75" stroke-width="0.7"/>
<circle cx="113.9" cy="418.6" r="8.8" fill="#a3238a" stroke="#8a1d75" stroke-width="0.7"/>
<circle cx="139" cy="400.9" r="8.8" fill="#d3df46" stroke="#b3bd3b" stroke-width="0.7"/>
<circle cx="162" cy="388" r="8.8" fill="#dc5d59" stroke="#bb4f4b" stroke-width="0.7"/>
<rect x="178.25" y="368.85" width="17.5" height="17.5" fill="#a3238a" stroke="#8a1d75" stroke-width="0.7"/>
<polygon points="228.50,369.80 224.12,377.38 215.38,377.38 211.00,369.80 215.38,362.22 224.12,362.22" fill="#dc5d59" stroke="#bb4f4b" stroke-width="0.7"/>
<rect x="286.75" y="359.65" width="17.5" height="17.5" fill="#a3238a" stroke="#8a1d75" stroke-width="0.7"/>
<circle cx="323.5" cy="374.7" r="8.8" fill="#a3238a" stroke="#8a1d75" stroke-width="0.7"/>
<rect x="366.25" y="387.25" width="17.5" height="17.5" fill="#dc5d59" stroke="#bb4f4b" stroke-width="0.7"/>
<rect x="388.75" y="401.85" width="17.5" height="17.5" fill="#dc5d59" stroke="#bb4f4b" stroke-width="0.7"/>
<rect x="409.45" y="418.55" width="17.5" height="17.5" fill="#df7272" stroke="#bd6060" stroke-width="0.7"/>
<rect x="430.05" y="439.85" width="17.5" height="17.5" fill="#dc5d59" stroke="#bb4f4b" stroke-width="0.7"/>
<rect x="445.55" y="461.05" width="17.5" height="17.5" fill="#a3238a" stroke="#8a1d75" stroke-width="0.7"/>
<rect x="459.15" y="484.05" width="17.5" height="17.5" fill="#dc5d59" stroke="#bb4f4b" stroke-width="0.7"/>
<circle cx="478.5" cy="517.4" r="8.8" fill="#f6a03a" stroke="#d18831" stroke-width="0.7"/>
<circle cx="486.2" cy="543.1" r="8.8" fill="#f6a03a" stroke="#d18831" stroke-width="0.7"/>
<circle cx="491.3" cy="570.6" r="8.8" fill="#dc5d59" stroke="#bb4f4b" stroke-width="0.7"/>
<circle cx="492.7" cy="596.8" r="8.8" fill="#dc5d59" stroke="#bb4f4b" stroke-width="0.7"/>
<circle cx="43.7" cy="517.6" r="8.8" fill="#dc5d59" stroke="#bb4f4b" stroke-width="0.7"/>
<rect x="26.75" y="535.65" width="17.5" height="17.5" fill="#a3238a" stroke="#8a1d75" stroke-width="0.7"/>
<rect x="22.25" y="562.25" width="17.5" height="17.5" fill="#dc5d59" stroke="#bb4f4b" stroke-width="0.7"/>
<rect x="20.85" y="588.25" width="17.5" height="17.5" fill="#f6a03a" stroke="#d18831" stroke-width="0.7"/>
<rect x="421.8" y="369.2" width="116.7" height="53.4" rx="2" fill="#eeeee5" stroke="#c8c8c0" stroke-width="0.8"/>
<text x="480.1" y="380.2" font-size="6.6" font-family="'DejaVu Sans', sans-serif" fill="#333" text-anchor="middle">Segment: 153322500-153327500</text>
<text x="480.1" y="390.0" font-size="6.6" font-family="'DejaVu Sans', sans-serif" fill="#333" text-anchor="middle">Genes: MECP2</text>
<text x="480.1" y="399.8" font-size="6.6" font-family="'DejaVu Sans', sans-serif" fill="#333" text-anchor="middle">Proteins: P51608,P51608-2</text>
<text x="480.1" y="409.6" font-size="6.6" font-family="'DejaVu Sans', sans-serif" fill="#333" text-anchor="middle">States: TX,ENH</text>
<text x="480.1" y="419.4" font-size="6.6" font-family="'DejaVu Sans', sans-serif" fill="#333" text-anchor="middle">TAD: 152400000-154940000</text>
<path transform="translate(421.6,426.1) scale(0.88)" d="M0,0 L0,11 L2.6,8.4 L4.4,12.4 L6,11.7 L4.3,7.8 L7.8,7.8 Z" fill="#fff" stroke="#222" stroke-width="0.8" stroke-linejoin="round"/>
<text x="105" y="586" font-size="10" fill="#2c3e50">Component Nr.1292 with 22 nodes and 23 edges. Significance score F=3.46.</text>
<text x="116.2" y="601.5" font-size="10" fill="#2c3e50">Base tissues: BL,OV,SB. Type A tissues: LI. Type B tissues: PO,PA,AD.</text>
<text x="33.8" y="624.6" font-size="10" fill="#2c3e50">Total of 7 states in component:</text>
<path d="M183.40,606.66L187.49,610.75L183.40,614.84L179.31,610.75ZM188.15,611.41L192.24,615.50L188.15,619.59L184.06,615.50ZM183.40,616.16L187.49,620.25L183.40,624.34L179.31,620.25ZM178.65,611.41L182.74,615.50L178.65,619.59L174.56,615.50Z" fill="#1b7a2c"/>
<text x="195.3" y="624.6" font-size="10" fill="#2c3e50">ENH(55%, base: 11%),</text>
<clipPath id="rc1"><circle cx="308.8" cy="617.8" r="5.60"/></clipPath><circle cx="308.8" cy="617.8" r="7" fill="#e5242c"/><g clip-path="url(#rc1)"><rect x="300.53" y="610.80" width="0.86" height="14.00" fill="#fbe3e0"/><rect x="302.49" y="610.80" width="0.86" height="14.00" fill="#fbe3e0"/><rect x="304.45" y="610.80" width="0.86" height="14.00" fill="#fbe3e0"/><rect x="306.41" y="610.80" width="0.86" height="14.00" fill="#fbe3e0"/><rect x="308.37" y="610.80" width="0.86" height="14.00" fill="#fbe3e0"/><rect x="310.33" y="610.80" width="0.86" height="14.00" fill="#fbe3e0"/><rect x="312.29" y="610.80" width="0.86" height="14.00" fill="#fbe3e0"/><rect x="314.25" y="610.80" width="0.86" height="14.00" fill="#fbe3e0"/><rect x="316.21" y="610.80" width="0.86" height="14.00" fill="#fbe3e0"/></g>
<text x="317.9" y="624.6" font-size="10" fill="#2c3e50">HET(9%, base: 23%),</text>
<clipPath id="rc2"><circle cx="425.6" cy="617.8" r="5.60"/></clipPath><circle cx="425.6" cy="617.8" r="7" fill="#e5242c"/><g clip-path="url(#rc2)"><rect x="417.33" y="610.80" width="0.86" height="14.00" fill="#fbe3e0"/><rect x="419.29" y="610.80" width="0.86" height="14.00" fill="#fbe3e0"/><rect x="421.25" y="610.80" width="0.86" height="14.00" fill="#fbe3e0"/><rect x="423.21" y="610.80" width="0.86" height="14.00" fill="#fbe3e0"/><rect x="425.17" y="610.80" width="0.86" height="14.00" fill="#fbe3e0"/><rect x="427.13" y="610.80" width="0.86" height="14.00" fill="#fbe3e0"/><rect x="429.09" y="610.80" width="0.86" height="14.00" fill="#fbe3e0"/><rect x="431.05" y="610.80" width="0.86" height="14.00" fill="#fbe3e0"/><rect x="433.01" y="610.80" width="0.86" height="14.00" fill="#fbe3e0"/></g>
<text x="434.7" y="624.6" font-size="10" fill="#2c3e50">PC(9%, base: 21%),</text>
<clipPath id="rc3"><circle cx="39.7" cy="643.8" r="3.84"/></clipPath><circle cx="39.7" cy="643.8" r="4.8" fill="#e5242c"/><g clip-path="url(#rc3)"><rect x="34.03" y="639.00" width="0.59" height="9.60" fill="#fbe3e0"/><rect x="35.37" y="639.00" width="0.59" height="9.60" fill="#fbe3e0"/><rect x="36.72" y="639.00" width="0.59" height="9.60" fill="#fbe3e0"/><rect x="38.06" y="639.00" width="0.59" height="9.60" fill="#fbe3e0"/><rect x="39.40" y="639.00" width="0.59" height="9.60" fill="#fbe3e0"/><rect x="40.75" y="639.00" width="0.59" height="9.60" fill="#fbe3e0"/><rect x="42.09" y="639.00" width="0.59" height="9.60" fill="#fbe3e0"/><rect x="43.44" y="639.00" width="0.59" height="9.60" fill="#fbe3e0"/><rect x="44.78" y="639.00" width="0.59" height="9.60" fill="#fbe3e0"/></g>
<text x="45.9" y="648.6" font-size="10" fill="#2c3e50">QUI(55%, base: 60%),</text>
<path d="M161.00,630.93L164.87,634.80L161.00,638.67L157.13,634.80ZM165.50,635.43L169.37,639.30L165.50,643.17L161.63,639.30ZM161.00,639.93L164.87,643.80L161.00,647.67L157.13,643.80ZM156.50,635.43L160.37,639.30L156.50,643.17L152.63,639.30Z" fill="#1b7a2c"/>
<text x="172.6" y="648.6" font-size="10" fill="#2c3e50">TSS(23%, base: 4%),</text>
<path d="M280.00,634.02L283.23,637.25L280.00,640.48L276.77,637.25ZM283.75,637.77L286.98,641.00L283.75,644.23L280.52,641.00ZM280.00,641.52L283.23,644.75L280.00,647.98L276.77,644.75ZM276.25,637.77L279.48,641.00L276.25,644.23L273.02,641.00Z" fill="#1b7a2c"/>
<text x="289.8" y="648.6" font-size="10" fill="#2c3e50">TX(36%, base: 14%),</text>
<clipPath id="rc4"><circle cx="394.3" cy="643.3" r="5.04"/></clipPath><circle cx="394.3" cy="643.3" r="6.3" fill="#e5242c"/><g clip-path="url(#rc4)"><rect x="386.86" y="637.00" width="0.78" height="12.60" fill="#fbe3e0"/><rect x="388.62" y="637.00" width="0.78" height="12.60" fill="#fbe3e0"/><rect x="390.38" y="637.00" width="0.78" height="12.60" fill="#fbe3e0"/><rect x="392.15" y="637.00" width="0.78" height="12.60" fill="#fbe3e0"/><rect x="393.91" y="637.00" width="0.78" height="12.60" fill="#fbe3e0"/><rect x="395.68" y="637.00" width="0.78" height="12.60" fill="#fbe3e0"/><rect x="397.44" y="637.00" width="0.78" height="12.60" fill="#fbe3e0"/><rect x="399.20" y="637.00" width="0.78" height="12.60" fill="#fbe3e0"/><rect x="400.97" y="637.00" width="0.78" height="12.60" fill="#fbe3e0"/></g>
<text x="401.7" y="648.6" font-size="10" fill="#2c3e50">ZNF/RPTS(5%, base: 8%),</text>
<rect x="587" y="356.5" width="93.5" height="316" rx="3" fill="#fff" stroke="#dcdcdc" stroke-width="1"/>
<text x="633.9" y="377" font-size="10.5" fill="#2c3e50" text-anchor="middle">Tissue:</text>
<text x="600.9" y="394.4" font-size="10" font-weight="bold" fill="#2c3e50">Adrenal gland</text>
<circle cx="594" cy="391.79999999999995" r="2.9" fill="#fff" stroke="#555" stroke-width="0.6"/>
<rect x="671.07" y="388.90" width="5.6" height="5.6" fill="#fff" stroke="#555" stroke-width="0.6"/>
<text x="621.3" y="415" font-size="10" font-weight="bold" fill="#2c3e50">Aorta</text>
<circle cx="614.5" cy="412.4" r="2.9" fill="#fff" stroke="#555" stroke-width="0.6"/>
<rect x="650.91" y="409.50" width="5.6" height="5.6" fill="#fff" stroke="#555" stroke-width="0.6"/>
<text x="616.7" y="435.4" font-size="10" fill="#2c3e50">Bladder</text>
<circle cx="610.2" cy="432.79999999999995" r="2.9" fill="#fff" stroke="#555" stroke-width="0.6"/>
<rect x="654.67" y="429.90" width="5.8" height="5.8" rx="0.6" fill="#c9cbd6"/>
<path d="M655.87,432.70L657.17,434.10L659.47,431.00" fill="none" stroke="#fff" stroke-width="0.9"/>
<text x="622" y="455.8" font-size="10" font-weight="bold" fill="#2c3e50">Liver</text>
<circle cx="615.9" cy="453.2" r="2.9" fill="#fff" stroke="#3b7fd0" stroke-width="0.8"/><circle cx="615.9" cy="453.2" r="1.5" fill="#3b7fd0"/>
<rect x="649.40" y="450.30" width="5.8" height="5.8" rx="0.6" fill="#c9cbd6"/>
<path d="M650.60,453.10L651.90,454.50L654.20,451.40" fill="none" stroke="#fff" stroke-width="0.9"/>
<text x="621.6" y="477" font-size="10" font-weight="bold" fill="#2c3e50">Lung</text>
<circle cx="615.1" cy="474.4" r="2.9" fill="#fff" stroke="#555" stroke-width="0.6"/>
<rect x="649.53" y="471.50" width="5.6" height="5.6" fill="#fff" stroke="#555" stroke-width="0.6"/>
<text x="620" y="497.1" font-size="10" font-weight="bold" fill="#2c3e50">Ovary</text>
<circle cx="613.5" cy="494.5" r="2.9" fill="#fff" stroke="#555" stroke-width="0.6"/>
<rect x="651.85" y="491.60" width="5.8" height="5.8" rx="0.6" fill="#c9cbd6"/>
<path d="M653.05,494.40L654.35,495.80L656.65,492.70" fill="none" stroke="#fff" stroke-width="0.9"/>
<text x="611.5" y="517.9" font-size="10" font-weight="bold" fill="#2c3e50">Pancreas</text>
<circle cx="605" cy="515.3" r="2.9" fill="#fff" stroke="#555" stroke-width="0.6"/>
<rect x="659.48" y="512.40" width="5.6" height="5.6" fill="#fff" stroke="#555" stroke-width="0.6"/>
<text x="619.2" y="538" font-size="10" font-weight="bold" fill="#2c3e50">Psoas</text>
<circle cx="613.1" cy="535.4" r="2.9" fill="#fff" stroke="#555" stroke-width="0.6"/>
<rect x="652.16" y="532.50" width="5.6" height="5.6" fill="#fff" stroke="#555" stroke-width="0.6"/>
<text x="604.8" y="558.7" font-size="10" font-weight="bold" fill="#2c3e50">Small Bowel</text>
<circle cx="598.3" cy="556.1" r="2.9" fill="#fff" stroke="#555" stroke-width="0.6"/>
<rect x="667.20" y="553.20" width="5.8" height="5.8" rx="0.6" fill="#c9cbd6"/>
<path d="M668.40,556.00L669.70,557.40L672.00,554.30" fill="none" stroke="#fff" stroke-width="0.9"/>
<text x="617.5" y="580" font-size="10" font-weight="bold" fill="#2c3e50">Spleen</text>
<circle cx="611" cy="577.4" r="2.9" fill="#fff" stroke="#555" stroke-width="0.6"/>
<rect x="653.79" y="574.50" width="5.6" height="5.6" fill="#fff" stroke="#555" stroke-width="0.6"/>
<rect x="609.6" y="597.5" width="48.2" height="28.3" rx="2.5" fill="#f2f2f2" stroke="#c9c9c9" stroke-width="0.8"/>
<text x="633.7" y="609.0" font-size="7.6" fill="#222" text-anchor="middle">Previous</text>
<text x="633.7" y="620.0" font-size="7.6" fill="#222" text-anchor="middle">component</text>
<rect x="609.6" y="635.4" width="48.2" height="28.3" rx="2.5" fill="#f2f2f2" stroke="#c9c9c9" stroke-width="0.8"/>
<text x="633.7" y="646.9" font-size="7.6" fill="#222" text-anchor="middle">Next</text>
<text x="633.7" y="657.9" font-size="7.6" fill="#222" text-anchor="middle">component</text>
</svg></body></html>
